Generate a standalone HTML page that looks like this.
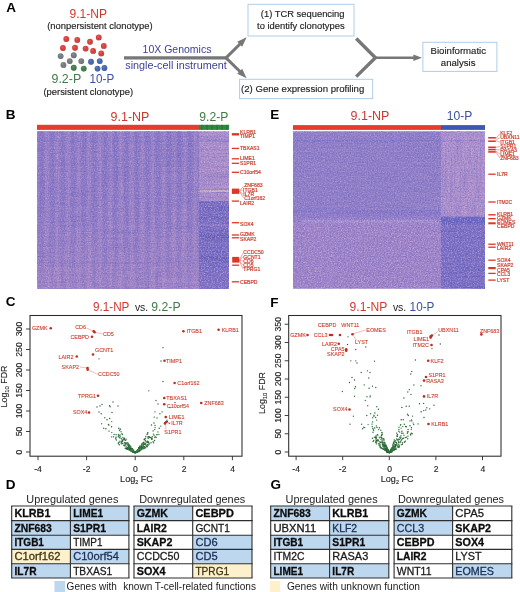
<!DOCTYPE html><html><head><meta charset="utf-8"><title>Figure</title>
<style>html,body{margin:0;padding:0;background:#fff}svg{display:block}text{font-family:"Liberation Sans",sans-serif}.b{font-weight:bold}.g{font-size:5.4px;fill:#cc4030;stroke:#cc4030;stroke-width:0.1px}.tk{fill:#222;stroke:#222;stroke-width:0.12px}.tb{font-size:11.4px;fill:#111}.hl{font-size:5.1px;fill:#cc4030;stroke:#cc4030;stroke-width:0.2px}</style></head><body>
<svg width="520" height="592" viewBox="0 0 520 592">
<defs>
<filter id="nz" x="0" y="0" width="100%" height="100%" color-interpolation-filters="sRGB"><feTurbulence type="fractalNoise" baseFrequency="0.7 0.8" numOctaves="2" seed="3"/><feColorMatrix type="matrix" values="0 0 0 0 0.84  0 0 0 0 0.70  0 0 0 0 0.86  2.2 0 0 0 -0.92"/><feGaussianBlur stdDeviation="0.45"/></filter>
<filter id="nb" x="0" y="0" width="100%" height="100%" color-interpolation-filters="sRGB"><feTurbulence type="fractalNoise" baseFrequency="0.7 0.8" numOctaves="2" seed="11"/><feColorMatrix type="matrix" values="0 0 0 0 0.34  0 0 0 0 0.34  0 0 0 0 0.72  0 2.2 0 0 -0.92"/><feGaussianBlur stdDeviation="0.45"/></filter>
<filter id="ns" x="0" y="0" width="100%" height="100%" color-interpolation-filters="sRGB"><feTurbulence type="fractalNoise" baseFrequency="0.02 0.55" numOctaves="2" seed="5"/><feColorMatrix type="matrix" values="0 0 0 0 0.34  0 0 0 0 0.34  0 0 0 0 0.72  0 0 1.8 0 -0.72"/></filter>
<filter id="np" x="0" y="0" width="100%" height="100%" color-interpolation-filters="sRGB"><feTurbulence type="fractalNoise" baseFrequency="0.02 0.55" numOctaves="2" seed="8"/><feColorMatrix type="matrix" values="0 0 0 0 0.80  0 0 0 0 0.64  0 0 0 0 0.82  0 1.8 0 0 -0.72"/></filter>
<filter id="nv" x="0" y="0" width="100%" height="100%" color-interpolation-filters="sRGB"><feTurbulence type="fractalNoise" baseFrequency="0.55 0.03" numOctaves="2" seed="21"/><feColorMatrix type="matrix" values="0 0 0 0 0.40  0 0 0 0 0.38  0 0 0 0 0.74  0 0 2.0 0 -0.8"/></filter>
<radialGradient id="sh" cx="0.4" cy="0.35" r="0.7"><stop offset="0" stop-color="#fff" stop-opacity="0.2"/><stop offset="0.5" stop-color="#fff" stop-opacity="0"/><stop offset="1" stop-color="#000" stop-opacity="0.32"/></radialGradient>
<marker id="ah" markerWidth="4" markerHeight="4" refX="1" refY="2" orient="auto" markerUnits="strokeWidth"><path d="M0,0 L4,2 L0,4 z" fill="#7d7d7d"/></marker>
<linearGradient id="gE" x1="0" y1="0" x2="0" y2="1"><stop offset="0" stop-color="#8374c9"/><stop offset="1" stop-color="#9480c9"/></linearGradient>
<linearGradient id="stB" gradientUnits="userSpaceOnUse" x1="37" y1="0" x2="47.6" y2="0" spreadMethod="repeat"><stop offset="0" stop-color="#6e64c2" stop-opacity="0"/><stop offset="0.3" stop-color="#6e64c2" stop-opacity="0.42"/><stop offset="0.55" stop-color="#6e64c2" stop-opacity="0.42"/><stop offset="0.85" stop-color="#6e64c2" stop-opacity="0"/><stop offset="1" stop-color="#6e64c2" stop-opacity="0"/></linearGradient>
<linearGradient id="gP" x1="0" y1="0" x2="0" y2="1"><stop offset="0" stop-color="#b892c8" stop-opacity="0"/><stop offset="1" stop-color="#b892c8" stop-opacity="0.5"/></linearGradient>
</defs>
<rect width="520" height="592" fill="#fff"/>
<text x="6.30" y="11.50" class="b" font-size="13.5" fill="#000">A</text>
<text x="5.70" y="118.70" class="b" font-size="13.5" fill="#000">B</text>
<text x="5.70" y="306.30" class="b" font-size="13.5" fill="#000">C</text>
<text x="5.70" y="489.00" class="b" font-size="13.5" fill="#000">D</text>
<text x="270.20" y="119.30" class="b" font-size="13.5" fill="#000">E</text>
<text x="270.20" y="306.70" class="b" font-size="13.5" fill="#000">F</text>
<text x="270.40" y="488.80" class="b" font-size="13.5" fill="#000">G</text>
<text x="69.60" y="18.10" font-size="12.2" fill="#d0382e" textLength="37.43" lengthAdjust="spacingAndGlyphs">9.1-NP</text>
<text x="99.90" y="29.20" font-size="9.4" fill="#1e1e1e" text-anchor="middle" stroke="#1e1e1e" stroke-width="0.15">(nonpersistent clonotype)</text>
<text x="51.50" y="82.80" font-size="12.3" fill="#417c45" textLength="29.70" lengthAdjust="spacingAndGlyphs">9.2-P</text>
<text x="89.60" y="82.80" font-size="12.3" fill="#3a519f" textLength="24.63" lengthAdjust="spacingAndGlyphs">10-P</text>
<text x="88.30" y="95.20" font-size="9.4" fill="#1e1e1e" text-anchor="middle" stroke="#1e1e1e" stroke-width="0.15">(persistent clonotype)</text>
<circle cx="66.25" cy="39.00" r="2.9" fill="#d73a38"/>
<circle cx="66.25" cy="39.00" r="2.9" fill="url(#sh)"/>
<circle cx="77.25" cy="39.90" r="2.9" fill="#d73a38"/>
<circle cx="77.25" cy="39.90" r="2.9" fill="url(#sh)"/>
<circle cx="98.75" cy="37.40" r="2.9" fill="#d73a38"/>
<circle cx="98.75" cy="37.40" r="2.9" fill="url(#sh)"/>
<circle cx="90.00" cy="41.75" r="2.9" fill="#d73a38"/>
<circle cx="90.00" cy="41.75" r="2.9" fill="url(#sh)"/>
<circle cx="62.90" cy="48.00" r="2.9" fill="#d73a38"/>
<circle cx="62.90" cy="48.00" r="2.9" fill="url(#sh)"/>
<circle cx="75.00" cy="47.75" r="2.9" fill="#d73a38"/>
<circle cx="75.00" cy="47.75" r="2.9" fill="url(#sh)"/>
<circle cx="85.60" cy="48.60" r="2.9" fill="#d73a38"/>
<circle cx="85.60" cy="48.60" r="2.9" fill="url(#sh)"/>
<circle cx="93.10" cy="50.90" r="2.9" fill="#d73a38"/>
<circle cx="93.10" cy="50.90" r="2.9" fill="url(#sh)"/>
<circle cx="103.75" cy="45.90" r="2.9" fill="#d73a38"/>
<circle cx="103.75" cy="45.90" r="2.9" fill="url(#sh)"/>
<circle cx="101.20" cy="53.40" r="2.9" fill="#d73a38"/>
<circle cx="101.20" cy="53.40" r="2.9" fill="url(#sh)"/>
<circle cx="60.60" cy="56.10" r="2.9" fill="#70767a"/>
<circle cx="60.60" cy="56.10" r="2.9" fill="url(#sh)"/>
<circle cx="73.75" cy="55.25" r="2.9" fill="#70767a"/>
<circle cx="73.75" cy="55.25" r="2.9" fill="url(#sh)"/>
<circle cx="69.75" cy="61.10" r="2.9" fill="#70767a"/>
<circle cx="69.75" cy="61.10" r="2.9" fill="url(#sh)"/>
<circle cx="81.25" cy="61.10" r="2.9" fill="#70767a"/>
<circle cx="81.25" cy="61.10" r="2.9" fill="url(#sh)"/>
<circle cx="63.40" cy="64.90" r="2.9" fill="#70767a"/>
<circle cx="63.40" cy="64.90" r="2.9" fill="url(#sh)"/>
<circle cx="73.75" cy="67.75" r="2.9" fill="#3c7a42"/>
<circle cx="73.75" cy="67.75" r="2.9" fill="url(#sh)"/>
<circle cx="83.75" cy="68.60" r="2.9" fill="#3c7a42"/>
<circle cx="83.75" cy="68.60" r="2.9" fill="url(#sh)"/>
<circle cx="91.00" cy="61.75" r="2.9" fill="#3d60b0"/>
<circle cx="91.00" cy="61.75" r="2.9" fill="url(#sh)"/>
<circle cx="99.75" cy="61.10" r="2.9" fill="#3d60b0"/>
<circle cx="99.75" cy="61.10" r="2.9" fill="url(#sh)"/>
<circle cx="97.50" cy="68.60" r="2.9" fill="#3d60b0"/>
<circle cx="97.50" cy="68.60" r="2.9" fill="url(#sh)"/>
<circle cx="104.40" cy="68.00" r="2.9" fill="#3d60b0"/>
<circle cx="104.40" cy="68.00" r="2.9" fill="url(#sh)"/>
<path d="M124,57.9 H227" stroke="#777777" stroke-width="3.2" fill="none"/>
<path d="M226,57.9 L241,43" stroke="#777777" stroke-width="3" fill="none"/>
<path d="M226,57.9 L241,72.5" stroke="#777777" stroke-width="3" fill="none"/>
<path d="M246.6,37.3 L237.2,41.8 L242.2,46.8 z" fill="#777777"/>
<path d="M246.6,78.2 L237.2,73.7 L242.2,68.7 z" fill="#777777"/>
<text x="177.00" y="52.80" font-size="10.5" fill="#3b3f96" text-anchor="middle">10X Genomics</text>
<text x="176.00" y="68.60" font-size="10.8" fill="#3b3f96" text-anchor="middle">single-cell instrument</text>
<rect x="248" y="4.3" width="106" height="31.7" fill="#fff" stroke="#b0cde8" stroke-width="1"/>
<text x="302.70" y="16.90" font-size="9.4" fill="#1e1e1e" text-anchor="middle" stroke="#1e1e1e" stroke-width="0.15">(1) TCR sequencing</text>
<text x="300.90" y="29.20" font-size="9.4" fill="#1e1e1e" text-anchor="middle" stroke="#1e1e1e" stroke-width="0.15">to identify clonotypes</text>
<rect x="239.6" y="79.3" width="133.1" height="19.3" fill="#fff" stroke="#b0cde8" stroke-width="1"/>
<text x="302.70" y="91.80" font-size="9.6" fill="#1e1e1e" text-anchor="middle" stroke="#1e1e1e" stroke-width="0.15">(2) Gene expression profiling</text>
<path d="M356.2,38.5 L375.4,57.7 L356.2,76.6" stroke="#777777" stroke-width="3.4" fill="none" stroke-linejoin="miter"/>
<path d="M375.4,57.7 H415" stroke="#777777" stroke-width="2.4" fill="none"/>
<path d="M422,57.7 l-8.6,-3.2 v6.4 z" fill="#777777"/>
<rect x="422.9" y="42.3" width="74" height="29.1" fill="#fff" stroke="#b0cde8" stroke-width="1"/>
<text x="458.30" y="54.40" font-size="9.6" fill="#1e1e1e" text-anchor="middle" stroke="#1e1e1e" stroke-width="0.15">Bioinformatic</text>
<text x="458.20" y="65.80" font-size="9.6" fill="#1e1e1e" text-anchor="middle" stroke="#1e1e1e" stroke-width="0.15">analysis</text>
<rect x="37.0" y="124.8" width="162.0" height="5.1" fill="#e63c2e"/>
<rect x="199.0" y="124.8" width="30.0" height="5.1" fill="#2f8a3c"/>
<rect x="201.0" y="124.8" width="2.0" height="5.1" fill="#256e30" opacity="0.5"/>
<rect x="206.0" y="124.8" width="2.0" height="5.1" fill="#256e30" opacity="0.5"/>
<rect x="211.0" y="124.8" width="2.0" height="5.1" fill="#256e30" opacity="0.5"/>
<rect x="216.0" y="124.8" width="2.0" height="5.1" fill="#256e30" opacity="0.5"/>
<rect x="221.0" y="124.8" width="2.0" height="5.1" fill="#256e30" opacity="0.5"/>
<rect x="226.0" y="124.8" width="2.0" height="5.1" fill="#256e30" opacity="0.5"/>
<rect x="37.0" y="131.3" width="162.0" height="157.7" fill="#a48ac9"/>
<rect x="37.0" y="131.3" width="162.0" height="157.7" fill="url(#stB)"/>
<rect x="37.0" y="200.0" width="162.0" height="89.0" fill="url(#gP)"/>
<rect x="37.0" y="131.3" width="162.0" height="157.7" fill="none" filter="url(#ns)" opacity="0.3"/>
<rect x="199.0" y="131.3" width="30.0" height="69.7" fill="#aa8ec9"/>
<rect x="199.0" y="201.0" width="30.0" height="88.0" fill="#776dc3"/>
<rect x="199.0" y="131.3" width="30.0" height="69.7" fill="none" filter="url(#np)" opacity="0.6"/>
<rect x="199.0" y="131.3" width="30.0" height="69.7" fill="none" filter="url(#ns)" opacity="0.35"/>
<rect x="199.0" y="201.0" width="30.0" height="88.0" fill="none" filter="url(#ns)" opacity="0.7"/>
<rect x="200.0" y="190.3" width="29.0" height="1.6" fill="#f0c8b8" opacity="0.75"/>
<rect x="199.0" y="224.5" width="30.0" height="1.2" fill="#a88ccc" opacity="0.7"/>
<rect x="199.0" y="234.6" width="30.0" height="1.3" fill="#5a58b8" opacity="0.7"/>
<rect x="199.0" y="237.0" width="30.0" height="1.3" fill="#5a58b8" opacity="0.7"/>
<rect x="199.0" y="256.5" width="30.0" height="2.2" fill="#5a58b8" opacity="0.6"/>
<rect x="199.0" y="270.0" width="30.0" height="19.0" fill="#9078c6" opacity="0.25"/>
<rect x="37.0" y="140.6" width="192.0" height="0.9" fill="#6a6ad0" opacity="0.5"/>
<rect x="37.0" y="262.5" width="162.0" height="1.0" fill="#7468c4" opacity="0.45"/>
<rect x="37.0" y="131.3" width="162.0" height="157.7" fill="none" filter="url(#nv)" opacity="0.3"/>
<rect x="37.0" y="131.3" width="162.0" height="157.7" fill="none" filter="url(#nz)" opacity="0.5"/>
<rect x="199.0" y="131.3" width="30.0" height="157.7" fill="none" filter="url(#nz)" opacity="0.7"/>
<rect x="37.0" y="131.3" width="192.0" height="157.7" fill="none" filter="url(#nb)" opacity="0.4"/>
<text x="110.60" y="120.50" font-size="12.5" fill="#d0382e" textLength="38.83" lengthAdjust="spacingAndGlyphs">9.1-NP</text>
<text x="199.30" y="120.50" font-size="12.5" fill="#417c45" textLength="29.10" lengthAdjust="spacingAndGlyphs">9.2-P</text>
<rect x="293.0" y="125.1" width="148.0" height="4.8" fill="#e63c2e"/>
<rect x="441.0" y="125.1" width="44.0" height="4.8" fill="#3d57b5"/>
<rect x="293.0" y="131.3" width="148.0" height="86.7" fill="#8c7dc8"/>
<rect x="293.0" y="218.0" width="148.0" height="70.7" fill="#9a81c8"/>
<rect x="293.0" y="210.0" width="148.0" height="12.0" fill="url(#gE)"/>
<rect x="293.0" y="131.3" width="148.0" height="157.4" fill="none" filter="url(#np)" opacity="0.25"/>
<rect x="441.0" y="131.3" width="44.0" height="86.7" fill="#ad91cc"/>
<rect x="441.0" y="218.0" width="44.0" height="70.7" fill="#7d72c6"/>
<rect x="441.0" y="131.3" width="44.0" height="86.7" fill="none" filter="url(#np)" opacity="0.55"/>
<rect x="441.0" y="218.0" width="44.0" height="70.7" fill="none" filter="url(#ns)" opacity="0.7"/>
<rect x="441.0" y="216.6" width="44.0" height="7.0" fill="#6464c3" opacity="0.9"/>
<rect x="303.0" y="220.0" width="134.0" height="2.6" fill="#b4aadc" opacity="0.42"/>
<rect x="441.0" y="202.0" width="44.0" height="3.0" fill="#b89cd0" opacity="0.45"/>
<rect x="293.0" y="140.3" width="192.0" height="0.9" fill="#6a6ad0" opacity="0.5"/>
<rect x="293.0" y="131.3" width="148.0" height="86.7" fill="none" filter="url(#nz)" opacity="0.5"/>
<rect x="293.0" y="218.0" width="148.0" height="70.7" fill="none" filter="url(#nz)" opacity="0.8"/>
<rect x="441.0" y="131.3" width="44.0" height="157.4" fill="none" filter="url(#nz)" opacity="0.7"/>
<rect x="441.0" y="131.3" width="44.0" height="157.4" fill="none" filter="url(#nv)" opacity="0.3"/>
<rect x="293.0" y="131.3" width="192.0" height="157.4" fill="none" filter="url(#nb)" opacity="0.45"/>
<text x="350.60" y="120.30" font-size="12.5" fill="#d0382e" textLength="38.83" lengthAdjust="spacingAndGlyphs">9.1-NP</text>
<text x="446.70" y="120.30" font-size="12.5" fill="#3a519f" textLength="25.53" lengthAdjust="spacingAndGlyphs">10-P</text>
<text x="240.00" y="133.70" class="hl">KLRB1</text>
<rect x="231.8" y="133.10" width="7.2" height="2.4" fill="#e2352a"/>
<text x="240.00" y="138.10" class="hl">TIMP1</text>
<text x="240.00" y="150.20" class="hl">TBXAS1</text>
<rect x="231.8" y="147.75" width="7.2" height="1.3" fill="#e2352a"/>
<text x="240.00" y="160.00" class="hl">LIME1</text>
<rect x="231.8" y="158.15" width="7.2" height="1.3" fill="#e2352a"/>
<text x="240.00" y="165.10" class="hl">S1PR1</text>
<rect x="231.8" y="162.65" width="7.2" height="1.3" fill="#e2352a"/>
<text x="240.00" y="174.10" class="hl">C10orf54</text>
<rect x="231.8" y="171.65" width="7.2" height="1.3" fill="#e2352a"/>
<text x="240.00" y="205.00" class="hl">LAIR2</text>
<rect x="231.8" y="200.45" width="7.2" height="1.3" fill="#e2352a"/>
<text x="240.00" y="226.00" class="hl">SOX4</text>
<rect x="231.8" y="222.05" width="7.2" height="1.3" fill="#e2352a"/>
<text x="240.00" y="236.00" class="hl">GZMK</text>
<rect x="231.8" y="234.35" width="7.2" height="1.3" fill="#e2352a"/>
<text x="240.00" y="240.80" class="hl">SKAP2</text>
<rect x="231.8" y="237.15" width="7.2" height="1.3" fill="#e2352a"/>
<text x="240.00" y="283.60" class="hl">CEBPD</text>
<rect x="231.8" y="281.15" width="7.2" height="1.3" fill="#e2352a"/>
<text x="244.20" y="187.30" class="hl">ZNF683</text>
<text x="243.00" y="192.10" class="hl">ITGB1</text>
<text x="243.30" y="196.10" class="hl">IL7R</text>
<text x="244.20" y="200.00" class="hl">C1orf162</text>
<rect x="231.9" y="188.6" width="7.3" height="5.3" fill="#e2352a"/>
<path d="M239.2,191.2 L243.6,186.3" stroke="#e2352a" stroke-width="0.45"/>
<path d="M239.2,191.2 L242.6,190.0" stroke="#e2352a" stroke-width="0.45"/>
<path d="M239.2,191.2 L242.9,194.0" stroke="#e2352a" stroke-width="0.45"/>
<path d="M239.2,191.2 L243.6,197.8" stroke="#e2352a" stroke-width="0.45"/>
<text x="243.30" y="254.20" class="hl">CCDC50</text>
<text x="243.30" y="258.50" class="hl">GCNT1</text>
<text x="243.30" y="262.60" class="hl">CD6</text>
<text x="243.30" y="266.80" class="hl">CD5</text>
<text x="243.30" y="271.10" class="hl">TPRG1</text>
<rect x="232.2" y="256.9" width="6.9" height="5.7" fill="#e2352a"/>
<rect x="232.2" y="264.55" width="6.9" height="1.3" fill="#e2352a"/>
<path d="M239.2,260.5 L242.9,253.2" stroke="#e2352a" stroke-width="0.45"/>
<path d="M239.2,260.5 L242.9,257.0" stroke="#e2352a" stroke-width="0.45"/>
<path d="M239.2,260.5 L242.9,260.8" stroke="#e2352a" stroke-width="0.45"/>
<path d="M239.2,260.5 L242.9,264.8" stroke="#e2352a" stroke-width="0.45"/>
<path d="M239.2,260.5 L242.9,268.8" stroke="#e2352a" stroke-width="0.45"/>
<text x="500.20" y="135.20" class="hl">KLF2</text>
<text x="500.20" y="139.30" class="hl">UBXN11</text>
<text x="500.20" y="144.00" class="hl">ITGB1</text>
<text x="500.20" y="148.30" class="hl">S1PR1</text>
<text x="500.20" y="151.70" class="hl">RASA3</text>
<text x="500.20" y="155.60" class="hl">LIME1</text>
<text x="500.20" y="159.70" class="hl">ZNF683</text>
<rect x="488.2" y="137.00" width="7.6" height="1.6" fill="#e2352a"/>
<rect x="488.2" y="140.40" width="7.6" height="1.6" fill="#e2352a"/>
<rect x="488.2" y="146.50" width="7.6" height="1.6" fill="#e2352a"/>
<rect x="488.2" y="148.80" width="7.6" height="1.6" fill="#e2352a"/>
<rect x="488.2" y="151.10" width="7.6" height="1.6" fill="#e2352a"/>
<path d="M495.8,138.5 L499.8,133.8" stroke="#e2352a" stroke-width="0.45"/>
<path d="M495.8,139.5 L499.8,137.8" stroke="#e2352a" stroke-width="0.45"/>
<path d="M495.8,140.5 L499.8,142.2" stroke="#e2352a" stroke-width="0.45"/>
<path d="M495.8,147.3 L499.8,146.5" stroke="#e2352a" stroke-width="0.45"/>
<path d="M495.8,149.6 L499.8,150.0" stroke="#e2352a" stroke-width="0.45"/>
<path d="M495.8,151.0 L499.8,154.0" stroke="#e2352a" stroke-width="0.45"/>
<path d="M495.8,152.0 L499.8,158.0" stroke="#e2352a" stroke-width="0.45"/>
<text x="497.00" y="176.00" class="hl">IL7R</text>
<rect x="488.3" y="173.55" width="7.4" height="1.3" fill="#e2352a"/>
<text x="497.00" y="203.80" class="hl">ITM2C</text>
<rect x="488.3" y="201.35" width="7.4" height="1.3" fill="#e2352a"/>
<text x="497.00" y="215.80" class="hl">KLRB1</text>
<rect x="488.3" y="214.10" width="7.4" height="1.4" fill="#e2352a"/>
<text x="497.00" y="219.70" class="hl">GZMK</text>
<rect x="488.3" y="218.00" width="7.4" height="1.4" fill="#e2352a"/>
<text x="497.00" y="223.70" class="hl">EOMES</text>
<rect x="488.3" y="222.30" width="7.4" height="2.0" fill="#e2352a"/>
<text x="497.00" y="227.90" class="hl">CEBPD</text>
<text x="497.00" y="245.70" class="hl">WNT11</text>
<rect x="488.3" y="243.55" width="7.4" height="1.3" fill="#e2352a"/>
<text x="497.00" y="250.00" class="hl">LAIR2</text>
<rect x="488.3" y="246.55" width="7.4" height="1.3" fill="#e2352a"/>
<text x="497.00" y="262.20" class="hl">SOX4</text>
<rect x="488.3" y="259.55" width="7.4" height="1.3" fill="#e2352a"/>
<text x="497.00" y="267.30" class="hl">SKAP2</text>
<rect x="488.3" y="267.00" width="7.4" height="2.2" fill="#e2352a"/>
<text x="497.00" y="271.50" class="hl">CPA5</text>
<text x="497.00" y="275.80" class="hl">CCL3</text>
<rect x="488.3" y="272.75" width="7.4" height="1.3" fill="#e2352a"/>
<text x="497.00" y="282.10" class="hl">LYST</text>
<rect x="488.3" y="279.45" width="7.4" height="1.3" fill="#e2352a"/>
<rect x="30.00" y="315.50" width="212.00" height="140.70" fill="#fff" stroke="#2a2a2a" stroke-width="1.05"/>
<text x="93.00" y="310.70" font-size="12.3" fill="#d0382e" textLength="36.43" lengthAdjust="spacingAndGlyphs">9.1-NP</text>
<text x="134.90" y="310.70" font-size="11.6" fill="#1c1c1c" textLength="13.38" lengthAdjust="spacingAndGlyphs">vs.</text>
<text x="151.30" y="310.70" font-size="12.3" fill="#417c45" textLength="29.30" lengthAdjust="spacingAndGlyphs">9.2-P</text>
<path d="M38.00,456.20 v4" stroke="#2a2a2a" stroke-width="0.9"/>
<text x="38.00" y="472.00" class="tk" text-anchor="middle" font-size="8.6">-4</text>
<path d="M86.60,456.20 v4" stroke="#2a2a2a" stroke-width="0.9"/>
<text x="86.60" y="472.00" class="tk" text-anchor="middle" font-size="8.6">-2</text>
<path d="M135.20,456.20 v4" stroke="#2a2a2a" stroke-width="0.9"/>
<text x="135.50" y="472.00" class="tk" text-anchor="middle" font-size="8.6">0</text>
<path d="M183.80,456.20 v4" stroke="#2a2a2a" stroke-width="0.9"/>
<text x="184.10" y="472.00" class="tk" text-anchor="middle" font-size="8.6">2</text>
<path d="M232.40,456.20 v4" stroke="#2a2a2a" stroke-width="0.9"/>
<text x="232.70" y="472.00" class="tk" text-anchor="middle" font-size="8.6">4</text>
<path d="M30.00,452.00 h-4" stroke="#2a2a2a" stroke-width="0.9"/>
<text class="tk" text-anchor="middle" transform="translate(22.10,452.00) rotate(-90)" font-size="8.6">0</text>
<path d="M30.00,431.50 h-4" stroke="#2a2a2a" stroke-width="0.9"/>
<text class="tk" text-anchor="middle" transform="translate(22.10,431.50) rotate(-90)" font-size="8.6">50</text>
<path d="M30.00,411.00 h-4" stroke="#2a2a2a" stroke-width="0.9"/>
<text class="tk" text-anchor="middle" transform="translate(22.10,411.00) rotate(-90)" font-size="8.6">100</text>
<path d="M30.00,390.50 h-4" stroke="#2a2a2a" stroke-width="0.9"/>
<text class="tk" text-anchor="middle" transform="translate(22.10,390.50) rotate(-90)" font-size="8.6">150</text>
<path d="M30.00,370.00 h-4" stroke="#2a2a2a" stroke-width="0.9"/>
<text class="tk" text-anchor="middle" transform="translate(22.10,370.00) rotate(-90)" font-size="8.6">200</text>
<path d="M30.00,349.50 h-4" stroke="#2a2a2a" stroke-width="0.9"/>
<text class="tk" text-anchor="middle" transform="translate(22.10,349.50) rotate(-90)" font-size="8.6">250</text>
<path d="M30.00,329.00 h-4" stroke="#2a2a2a" stroke-width="0.9"/>
<text class="tk" text-anchor="middle" transform="translate(22.10,329.00) rotate(-90)" font-size="8.6">300</text>
<text font-size="8.9" fill="#222" stroke="#222" stroke-width="0.12" text-anchor="middle" transform="translate(7.30,386.50) rotate(-90)">Log<tspan font-size="5.8" dy="2">10</tspan><tspan dy="-2"> FDR</tspan></text>
<text x="120.10" y="482.3" font-size="9.1" fill="#222" stroke="#222" stroke-width="0.12">Log<tspan font-size="5.4" dy="2">2</tspan><tspan dy="-2"> FC</tspan></text>
<circle cx="119.5" cy="430.5" r="0.72" fill="#33773f"/>
<circle cx="104.8" cy="417.7" r="0.72" fill="#33773f"/>
<circle cx="134.4" cy="452.4" r="0.72" fill="#285f33"/>
<circle cx="148.4" cy="445.1" r="0.72" fill="#2c6a38"/>
<circle cx="128.7" cy="449.5" r="0.72" fill="#2c6a38"/>
<circle cx="133.5" cy="452.0" r="0.72" fill="#33773f"/>
<circle cx="116.4" cy="440.0" r="0.72" fill="#33773f"/>
<circle cx="169.3" cy="423.5" r="0.72" fill="#3a8246"/>
<circle cx="134.3" cy="451.8" r="0.72" fill="#2c6a38"/>
<circle cx="116.0" cy="437.3" r="0.72" fill="#285f33"/>
<circle cx="137.5" cy="451.0" r="0.72" fill="#33773f"/>
<circle cx="120.5" cy="429.1" r="0.72" fill="#285f33"/>
<circle cx="135.5" cy="452.4" r="0.72" fill="#2c6a38"/>
<circle cx="126.9" cy="448.6" r="0.72" fill="#33773f"/>
<circle cx="170.0" cy="407.5" r="0.72" fill="#285f33"/>
<circle cx="137.5" cy="452.3" r="0.72" fill="#2c6a38"/>
<circle cx="138.6" cy="448.4" r="0.72" fill="#285f33"/>
<circle cx="127.5" cy="447.8" r="0.72" fill="#285f33"/>
<circle cx="126.9" cy="443.9" r="0.72" fill="#285f33"/>
<circle cx="131.9" cy="451.3" r="0.72" fill="#3a8246"/>
<circle cx="141.8" cy="445.0" r="0.72" fill="#3a8246"/>
<circle cx="133.0" cy="450.3" r="0.72" fill="#285f33"/>
<circle cx="133.1" cy="450.8" r="0.72" fill="#3a8246"/>
<circle cx="131.2" cy="451.1" r="0.72" fill="#3a8246"/>
<circle cx="132.4" cy="449.0" r="0.72" fill="#3a8246"/>
<circle cx="152.3" cy="436.7" r="0.72" fill="#285f33"/>
<circle cx="121.4" cy="442.0" r="0.72" fill="#33773f"/>
<circle cx="147.2" cy="445.7" r="0.72" fill="#3a8246"/>
<circle cx="145.6" cy="447.8" r="0.72" fill="#285f33"/>
<circle cx="152.2" cy="438.9" r="0.72" fill="#285f33"/>
<circle cx="139.0" cy="447.7" r="0.72" fill="#285f33"/>
<circle cx="122.0" cy="441.3" r="0.72" fill="#285f33"/>
<circle cx="137.1" cy="451.2" r="0.72" fill="#285f33"/>
<circle cx="141.7" cy="448.4" r="0.72" fill="#33773f"/>
<circle cx="147.9" cy="433.1" r="0.72" fill="#33773f"/>
<circle cx="137.5" cy="449.8" r="0.72" fill="#3a8246"/>
<circle cx="135.7" cy="452.2" r="0.72" fill="#3a8246"/>
<circle cx="139.5" cy="448.4" r="0.72" fill="#2c6a38"/>
<circle cx="129.3" cy="449.5" r="0.72" fill="#33773f"/>
<circle cx="136.0" cy="452.4" r="0.72" fill="#33773f"/>
<circle cx="156.1" cy="437.5" r="0.72" fill="#2c6a38"/>
<circle cx="132.7" cy="450.6" r="0.72" fill="#33773f"/>
<circle cx="142.9" cy="447.2" r="0.72" fill="#285f33"/>
<circle cx="154.2" cy="417.1" r="0.72" fill="#285f33"/>
<circle cx="138.8" cy="447.9" r="0.72" fill="#285f33"/>
<circle cx="159.2" cy="428.3" r="0.72" fill="#285f33"/>
<circle cx="136.0" cy="451.6" r="0.72" fill="#33773f"/>
<circle cx="128.0" cy="447.8" r="0.72" fill="#285f33"/>
<circle cx="119.9" cy="441.2" r="0.72" fill="#3a8246"/>
<circle cx="156.9" cy="434.6" r="0.72" fill="#3a8246"/>
<circle cx="124.6" cy="442.7" r="0.72" fill="#285f33"/>
<circle cx="141.1" cy="448.5" r="0.72" fill="#285f33"/>
<circle cx="141.8" cy="449.4" r="0.72" fill="#2c6a38"/>
<circle cx="141.6" cy="449.1" r="0.72" fill="#2c6a38"/>
<circle cx="111.6" cy="426.7" r="0.72" fill="#285f33"/>
<circle cx="130.9" cy="450.4" r="0.72" fill="#285f33"/>
<circle cx="155.2" cy="436.7" r="0.72" fill="#3a8246"/>
<circle cx="103.7" cy="428.2" r="0.72" fill="#33773f"/>
<circle cx="139.5" cy="448.9" r="0.72" fill="#2c6a38"/>
<circle cx="132.0" cy="451.5" r="0.72" fill="#285f33"/>
<circle cx="121.9" cy="433.7" r="0.72" fill="#33773f"/>
<circle cx="143.6" cy="445.0" r="0.72" fill="#3a8246"/>
<circle cx="160.8" cy="426.1" r="0.72" fill="#33773f"/>
<circle cx="124.7" cy="445.8" r="0.72" fill="#2c6a38"/>
<circle cx="143.4" cy="444.8" r="0.72" fill="#3a8246"/>
<circle cx="137.5" cy="450.5" r="0.72" fill="#3a8246"/>
<circle cx="146.5" cy="442.0" r="0.72" fill="#2c6a38"/>
<circle cx="133.6" cy="451.4" r="0.72" fill="#2c6a38"/>
<circle cx="132.7" cy="449.2" r="0.72" fill="#3a8246"/>
<circle cx="125.2" cy="443.1" r="0.72" fill="#2c6a38"/>
<circle cx="137.3" cy="450.6" r="0.72" fill="#3a8246"/>
<circle cx="140.0" cy="447.4" r="0.72" fill="#2c6a38"/>
<circle cx="134.5" cy="452.0" r="0.72" fill="#285f33"/>
<circle cx="139.4" cy="447.7" r="0.72" fill="#33773f"/>
<circle cx="135.7" cy="452.1" r="0.72" fill="#285f33"/>
<circle cx="137.9" cy="451.4" r="0.72" fill="#285f33"/>
<circle cx="121.7" cy="443.7" r="0.72" fill="#33773f"/>
<circle cx="128.3" cy="444.8" r="0.72" fill="#285f33"/>
<circle cx="132.5" cy="450.1" r="0.72" fill="#285f33"/>
<circle cx="129.9" cy="446.3" r="0.72" fill="#3a8246"/>
<circle cx="144.2" cy="439.7" r="0.72" fill="#2c6a38"/>
<circle cx="135.8" cy="452.5" r="0.72" fill="#3a8246"/>
<circle cx="130.5" cy="450.7" r="0.72" fill="#3a8246"/>
<circle cx="137.8" cy="451.1" r="0.72" fill="#33773f"/>
<circle cx="147.7" cy="437.0" r="0.72" fill="#3a8246"/>
<circle cx="143.9" cy="442.5" r="0.72" fill="#3a8246"/>
<circle cx="128.4" cy="446.7" r="0.72" fill="#33773f"/>
<circle cx="126.0" cy="448.6" r="0.72" fill="#33773f"/>
<circle cx="135.5" cy="452.5" r="0.72" fill="#3a8246"/>
<circle cx="148.7" cy="443.0" r="0.72" fill="#3a8246"/>
<circle cx="134.3" cy="451.7" r="0.72" fill="#3a8246"/>
<circle cx="136.9" cy="451.2" r="0.72" fill="#33773f"/>
<circle cx="145.1" cy="438.8" r="0.72" fill="#285f33"/>
<circle cx="134.8" cy="452.4" r="0.72" fill="#33773f"/>
<circle cx="141.9" cy="447.7" r="0.72" fill="#33773f"/>
<circle cx="132.6" cy="450.2" r="0.72" fill="#33773f"/>
<circle cx="148.2" cy="438.4" r="0.72" fill="#33773f"/>
<circle cx="137.6" cy="451.9" r="0.72" fill="#33773f"/>
<circle cx="148.7" cy="436.8" r="0.72" fill="#285f33"/>
<circle cx="135.7" cy="452.5" r="0.72" fill="#285f33"/>
<circle cx="121.0" cy="431.7" r="0.72" fill="#3a8246"/>
<circle cx="131.6" cy="449.4" r="0.72" fill="#3a8246"/>
<circle cx="135.6" cy="452.4" r="0.72" fill="#2c6a38"/>
<circle cx="143.1" cy="448.4" r="0.72" fill="#33773f"/>
<circle cx="132.6" cy="451.6" r="0.72" fill="#33773f"/>
<circle cx="111.7" cy="421.6" r="0.72" fill="#3a8246"/>
<circle cx="145.4" cy="444.0" r="0.72" fill="#33773f"/>
<circle cx="162.1" cy="411.9" r="0.72" fill="#33773f"/>
<circle cx="138.0" cy="451.5" r="0.72" fill="#285f33"/>
<circle cx="129.3" cy="447.9" r="0.72" fill="#3a8246"/>
<circle cx="135.7" cy="452.2" r="0.72" fill="#285f33"/>
<circle cx="128.8" cy="446.2" r="0.72" fill="#285f33"/>
<circle cx="107.0" cy="419.7" r="0.72" fill="#285f33"/>
<circle cx="128.4" cy="444.0" r="0.72" fill="#33773f"/>
<circle cx="127.1" cy="444.1" r="0.72" fill="#3a8246"/>
<circle cx="144.6" cy="444.3" r="0.72" fill="#285f33"/>
<circle cx="136.5" cy="452.1" r="0.72" fill="#2c6a38"/>
<circle cx="125.3" cy="448.3" r="0.72" fill="#2c6a38"/>
<circle cx="154.0" cy="423.0" r="0.72" fill="#2c6a38"/>
<circle cx="139.0" cy="450.8" r="0.72" fill="#285f33"/>
<circle cx="130.5" cy="448.0" r="0.72" fill="#2c6a38"/>
<circle cx="129.5" cy="448.6" r="0.72" fill="#3a8246"/>
<circle cx="137.3" cy="451.2" r="0.72" fill="#33773f"/>
<circle cx="139.2" cy="451.1" r="0.72" fill="#33773f"/>
<circle cx="137.3" cy="452.0" r="0.72" fill="#2c6a38"/>
<circle cx="139.9" cy="448.1" r="0.72" fill="#285f33"/>
<circle cx="136.9" cy="452.0" r="0.72" fill="#285f33"/>
<circle cx="157.9" cy="431.9" r="0.72" fill="#33773f"/>
<circle cx="120.2" cy="436.8" r="0.72" fill="#3a8246"/>
<circle cx="134.1" cy="452.5" r="0.72" fill="#33773f"/>
<circle cx="141.7" cy="444.4" r="0.72" fill="#33773f"/>
<circle cx="153.1" cy="430.9" r="0.72" fill="#2c6a38"/>
<circle cx="126.7" cy="448.6" r="0.72" fill="#33773f"/>
<circle cx="134.8" cy="452.4" r="0.72" fill="#3a8246"/>
<circle cx="147.7" cy="432.8" r="0.72" fill="#2c6a38"/>
<circle cx="151.5" cy="425.0" r="0.72" fill="#2c6a38"/>
<circle cx="147.5" cy="444.4" r="0.72" fill="#2c6a38"/>
<circle cx="138.1" cy="451.0" r="0.72" fill="#2c6a38"/>
<circle cx="126.5" cy="448.9" r="0.72" fill="#2c6a38"/>
<circle cx="118.2" cy="436.7" r="0.72" fill="#2c6a38"/>
<circle cx="139.8" cy="449.6" r="0.72" fill="#2c6a38"/>
<circle cx="129.3" cy="445.2" r="0.72" fill="#285f33"/>
<circle cx="136.1" cy="452.5" r="0.72" fill="#285f33"/>
<circle cx="132.9" cy="452.1" r="0.72" fill="#3a8246"/>
<circle cx="131.2" cy="449.4" r="0.72" fill="#3a8246"/>
<circle cx="131.6" cy="450.6" r="0.72" fill="#285f33"/>
<circle cx="149.3" cy="444.0" r="0.72" fill="#2c6a38"/>
<circle cx="133.0" cy="451.2" r="0.72" fill="#285f33"/>
<circle cx="148.7" cy="436.8" r="0.72" fill="#2c6a38"/>
<circle cx="132.6" cy="451.1" r="0.72" fill="#3a8246"/>
<circle cx="110.2" cy="406.7" r="0.72" fill="#3a8246"/>
<circle cx="135.2" cy="452.6" r="0.72" fill="#285f33"/>
<circle cx="136.8" cy="451.1" r="0.72" fill="#33773f"/>
<circle cx="101.2" cy="413.8" r="0.72" fill="#2c6a38"/>
<circle cx="132.8" cy="450.9" r="0.72" fill="#2c6a38"/>
<circle cx="151.7" cy="439.2" r="0.72" fill="#2c6a38"/>
<circle cx="135.2" cy="452.6" r="0.72" fill="#2c6a38"/>
<circle cx="153.6" cy="442.8" r="0.72" fill="#3a8246"/>
<circle cx="120.1" cy="429.3" r="0.72" fill="#3a8246"/>
<circle cx="122.4" cy="440.4" r="0.72" fill="#285f33"/>
<circle cx="119.6" cy="437.8" r="0.72" fill="#2c6a38"/>
<circle cx="155.1" cy="427.6" r="0.72" fill="#2c6a38"/>
<circle cx="154.1" cy="435.2" r="0.72" fill="#33773f"/>
<circle cx="126.3" cy="448.5" r="0.72" fill="#285f33"/>
<circle cx="134.5" cy="452.5" r="0.72" fill="#285f33"/>
<circle cx="134.0" cy="451.5" r="0.72" fill="#2c6a38"/>
<circle cx="135.7" cy="452.1" r="0.72" fill="#3a8246"/>
<circle cx="136.2" cy="452.1" r="0.72" fill="#2c6a38"/>
<circle cx="138.0" cy="449.6" r="0.72" fill="#3a8246"/>
<circle cx="129.2" cy="445.2" r="0.72" fill="#33773f"/>
<circle cx="133.7" cy="452.2" r="0.72" fill="#3a8246"/>
<circle cx="136.1" cy="451.9" r="0.72" fill="#2c6a38"/>
<circle cx="111.6" cy="436.9" r="0.72" fill="#3a8246"/>
<circle cx="131.6" cy="450.9" r="0.72" fill="#2c6a38"/>
<circle cx="145.2" cy="443.3" r="0.72" fill="#33773f"/>
<circle cx="135.8" cy="452.5" r="0.72" fill="#33773f"/>
<circle cx="133.5" cy="451.9" r="0.72" fill="#33773f"/>
<circle cx="130.4" cy="449.9" r="0.72" fill="#2c6a38"/>
<circle cx="141.1" cy="445.2" r="0.72" fill="#3a8246"/>
<circle cx="130.4" cy="450.0" r="0.72" fill="#2c6a38"/>
<circle cx="137.4" cy="450.7" r="0.72" fill="#2c6a38"/>
<circle cx="144.8" cy="447.0" r="0.72" fill="#33773f"/>
<circle cx="134.1" cy="452.1" r="0.72" fill="#285f33"/>
<circle cx="147.8" cy="442.3" r="0.72" fill="#2c6a38"/>
<circle cx="141.7" cy="446.0" r="0.72" fill="#3a8246"/>
<circle cx="129.7" cy="448.0" r="0.72" fill="#2c6a38"/>
<circle cx="134.2" cy="452.1" r="0.72" fill="#285f33"/>
<circle cx="143.6" cy="448.5" r="0.72" fill="#285f33"/>
<circle cx="135.2" cy="452.6" r="0.72" fill="#2c6a38"/>
<circle cx="144.4" cy="439.2" r="0.72" fill="#285f33"/>
<circle cx="126.2" cy="442.9" r="0.72" fill="#285f33"/>
<circle cx="135.4" cy="452.5" r="0.72" fill="#33773f"/>
<circle cx="145.7" cy="438.1" r="0.72" fill="#33773f"/>
<circle cx="147.4" cy="441.3" r="0.72" fill="#2c6a38"/>
<circle cx="141.6" cy="446.5" r="0.72" fill="#2c6a38"/>
<circle cx="138.1" cy="449.9" r="0.72" fill="#3a8246"/>
<circle cx="131.6" cy="449.2" r="0.72" fill="#2c6a38"/>
<circle cx="142.1" cy="446.2" r="0.72" fill="#2c6a38"/>
<circle cx="154.5" cy="440.5" r="0.72" fill="#285f33"/>
<circle cx="133.4" cy="450.6" r="0.72" fill="#285f33"/>
<circle cx="165.6" cy="417.5" r="0.72" fill="#33773f"/>
<circle cx="129.1" cy="448.2" r="0.72" fill="#33773f"/>
<circle cx="135.7" cy="452.3" r="0.72" fill="#3a8246"/>
<circle cx="136.2" cy="452.1" r="0.72" fill="#285f33"/>
<circle cx="137.7" cy="450.7" r="0.72" fill="#33773f"/>
<circle cx="150.7" cy="437.4" r="0.72" fill="#285f33"/>
<circle cx="129.0" cy="449.4" r="0.72" fill="#3a8246"/>
<circle cx="147.8" cy="441.9" r="0.72" fill="#2c6a38"/>
<circle cx="132.8" cy="452.2" r="0.72" fill="#285f33"/>
<circle cx="123.9" cy="439.3" r="0.72" fill="#3a8246"/>
<circle cx="138.0" cy="451.5" r="0.72" fill="#285f33"/>
<circle cx="140.5" cy="447.3" r="0.72" fill="#3a8246"/>
<circle cx="126.3" cy="447.0" r="0.72" fill="#33773f"/>
<circle cx="135.9" cy="452.3" r="0.72" fill="#33773f"/>
<circle cx="149.5" cy="437.2" r="0.72" fill="#285f33"/>
<circle cx="134.5" cy="452.2" r="0.72" fill="#2c6a38"/>
<circle cx="151.6" cy="438.3" r="0.72" fill="#285f33"/>
<circle cx="139.4" cy="451.0" r="0.72" fill="#33773f"/>
<circle cx="128.8" cy="448.6" r="0.72" fill="#2c6a38"/>
<circle cx="135.6" cy="452.4" r="0.72" fill="#285f33"/>
<circle cx="143.4" cy="446.4" r="0.72" fill="#3a8246"/>
<circle cx="122.0" cy="439.6" r="0.72" fill="#3a8246"/>
<circle cx="116.1" cy="434.8" r="0.72" fill="#33773f"/>
<circle cx="133.9" cy="452.2" r="0.72" fill="#3a8246"/>
<circle cx="138.5" cy="451.2" r="0.72" fill="#285f33"/>
<circle cx="115.7" cy="438.8" r="0.72" fill="#2c6a38"/>
<circle cx="139.6" cy="447.5" r="0.72" fill="#285f33"/>
<circle cx="136.3" cy="452.1" r="0.72" fill="#3a8246"/>
<circle cx="143.2" cy="444.9" r="0.72" fill="#2c6a38"/>
<circle cx="147.1" cy="434.6" r="0.72" fill="#3a8246"/>
<circle cx="144.3" cy="446.6" r="0.72" fill="#285f33"/>
<circle cx="119.0" cy="442.6" r="0.72" fill="#3a8246"/>
<circle cx="145.4" cy="440.9" r="0.72" fill="#285f33"/>
<circle cx="138.7" cy="448.0" r="0.72" fill="#33773f"/>
<circle cx="133.9" cy="452.0" r="0.72" fill="#2c6a38"/>
<circle cx="129.5" cy="447.4" r="0.72" fill="#2c6a38"/>
<circle cx="133.4" cy="451.6" r="0.72" fill="#3a8246"/>
<circle cx="130.9" cy="449.9" r="0.72" fill="#3a8246"/>
<circle cx="153.4" cy="434.1" r="0.72" fill="#2c6a38"/>
<circle cx="134.8" cy="452.5" r="0.72" fill="#33773f"/>
<circle cx="138.7" cy="450.1" r="0.72" fill="#2c6a38"/>
<circle cx="142.9" cy="443.5" r="0.72" fill="#33773f"/>
<circle cx="126.0" cy="439.3" r="0.72" fill="#285f33"/>
<circle cx="130.0" cy="450.1" r="0.72" fill="#3a8246"/>
<circle cx="139.0" cy="450.8" r="0.72" fill="#3a8246"/>
<circle cx="128.3" cy="443.9" r="0.72" fill="#33773f"/>
<circle cx="138.7" cy="451.0" r="0.72" fill="#2c6a38"/>
<circle cx="131.1" cy="448.8" r="0.72" fill="#285f33"/>
<circle cx="157.0" cy="418.0" r="0.72" fill="#3a8246"/>
<circle cx="159.9" cy="413.8" r="0.72" fill="#33773f"/>
<circle cx="133.3" cy="451.5" r="0.72" fill="#33773f"/>
<circle cx="135.9" cy="452.4" r="0.72" fill="#285f33"/>
<circle cx="138.8" cy="448.0" r="0.72" fill="#2c6a38"/>
<circle cx="143.8" cy="443.5" r="0.72" fill="#2c6a38"/>
<circle cx="132.7" cy="450.2" r="0.72" fill="#285f33"/>
<circle cx="143.2" cy="442.4" r="0.72" fill="#285f33"/>
<circle cx="122.9" cy="443.3" r="0.72" fill="#3a8246"/>
<circle cx="135.4" cy="452.4" r="0.72" fill="#2c6a38"/>
<circle cx="125.8" cy="443.3" r="0.72" fill="#285f33"/>
<circle cx="143.9" cy="448.0" r="0.72" fill="#285f33"/>
<circle cx="154.7" cy="429.6" r="0.72" fill="#2c6a38"/>
<circle cx="101.6" cy="423.8" r="0.72" fill="#3a8246"/>
<circle cx="137.6" cy="451.3" r="0.72" fill="#3a8246"/>
<circle cx="109.7" cy="418.5" r="0.72" fill="#2c6a38"/>
<circle cx="129.0" cy="449.6" r="0.72" fill="#3a8246"/>
<circle cx="132.5" cy="451.0" r="0.72" fill="#2c6a38"/>
<circle cx="135.8" cy="452.1" r="0.72" fill="#3a8246"/>
<circle cx="109.6" cy="405.7" r="0.72" fill="#285f33"/>
<circle cx="145.1" cy="444.3" r="0.72" fill="#2c6a38"/>
<circle cx="148.4" cy="442.1" r="0.72" fill="#33773f"/>
<circle cx="144.5" cy="448.0" r="0.72" fill="#2c6a38"/>
<circle cx="145.5" cy="440.5" r="0.72" fill="#3a8246"/>
<circle cx="119.2" cy="444.7" r="0.72" fill="#33773f"/>
<circle cx="134.5" cy="452.1" r="0.72" fill="#2c6a38"/>
<circle cx="135.7" cy="452.2" r="0.72" fill="#2c6a38"/>
<circle cx="137.3" cy="451.0" r="0.72" fill="#3a8246"/>
<circle cx="118.9" cy="442.3" r="0.72" fill="#3a8246"/>
<circle cx="105.9" cy="428.7" r="0.72" fill="#285f33"/>
<circle cx="125.8" cy="445.9" r="0.72" fill="#3a8246"/>
<circle cx="137.6" cy="451.2" r="0.72" fill="#33773f"/>
<circle cx="138.7" cy="450.6" r="0.72" fill="#33773f"/>
<circle cx="145.5" cy="447.4" r="0.72" fill="#3a8246"/>
<circle cx="146.1" cy="446.0" r="0.72" fill="#3a8246"/>
<circle cx="122.5" cy="434.6" r="0.72" fill="#285f33"/>
<circle cx="138.0" cy="451.3" r="0.72" fill="#2c6a38"/>
<circle cx="139.4" cy="449.6" r="0.72" fill="#33773f"/>
<circle cx="137.0" cy="452.1" r="0.72" fill="#3a8246"/>
<circle cx="127.1" cy="448.8" r="0.72" fill="#285f33"/>
<circle cx="124.1" cy="439.5" r="0.72" fill="#285f33"/>
<circle cx="131.1" cy="448.4" r="0.72" fill="#285f33"/>
<circle cx="136.3" cy="451.6" r="0.72" fill="#3a8246"/>
<circle cx="108.9" cy="425.1" r="0.72" fill="#2c6a38"/>
<circle cx="135.5" cy="452.5" r="0.72" fill="#2c6a38"/>
<circle cx="130.5" cy="446.5" r="0.72" fill="#3a8246"/>
<circle cx="128.4" cy="446.7" r="0.72" fill="#285f33"/>
<circle cx="141.6" cy="446.7" r="0.72" fill="#285f33"/>
<circle cx="127.6" cy="448.4" r="0.72" fill="#2c6a38"/>
<circle cx="133.7" cy="451.5" r="0.72" fill="#33773f"/>
<circle cx="128.5" cy="445.4" r="0.72" fill="#33773f"/>
<circle cx="141.1" cy="449.5" r="0.72" fill="#3a8246"/>
<circle cx="119.0" cy="435.6" r="0.72" fill="#3a8246"/>
<circle cx="150.1" cy="437.8" r="0.72" fill="#2c6a38"/>
<circle cx="130.6" cy="448.5" r="0.72" fill="#285f33"/>
<circle cx="147.2" cy="446.1" r="0.72" fill="#3a8246"/>
<circle cx="121.2" cy="438.4" r="0.72" fill="#2c6a38"/>
<circle cx="131.6" cy="450.9" r="0.72" fill="#33773f"/>
<circle cx="147.0" cy="446.8" r="0.72" fill="#285f33"/>
<circle cx="134.3" cy="452.4" r="0.72" fill="#285f33"/>
<circle cx="143.9" cy="448.7" r="0.72" fill="#3a8246"/>
<circle cx="136.4" cy="452.4" r="0.72" fill="#3a8246"/>
<circle cx="135.9" cy="452.1" r="0.72" fill="#285f33"/>
<circle cx="127.7" cy="442.7" r="0.72" fill="#33773f"/>
<circle cx="111.8" cy="432.6" r="0.72" fill="#33773f"/>
<circle cx="131.8" cy="449.1" r="0.72" fill="#3a8246"/>
<circle cx="132.2" cy="448.6" r="0.72" fill="#285f33"/>
<circle cx="130.6" cy="450.7" r="0.72" fill="#3a8246"/>
<circle cx="125.6" cy="440.4" r="0.72" fill="#33773f"/>
<circle cx="129.8" cy="445.4" r="0.72" fill="#2c6a38"/>
<circle cx="136.5" cy="452.3" r="0.72" fill="#2c6a38"/>
<circle cx="141.5" cy="447.5" r="0.72" fill="#285f33"/>
<circle cx="140.0" cy="450.7" r="0.72" fill="#285f33"/>
<circle cx="109.0" cy="431.1" r="0.72" fill="#285f33"/>
<circle cx="133.0" cy="451.1" r="0.72" fill="#2c6a38"/>
<circle cx="166.9" cy="420.2" r="0.72" fill="#3a8246"/>
<circle cx="132.2" cy="450.9" r="0.72" fill="#33773f"/>
<circle cx="133.6" cy="450.6" r="0.72" fill="#285f33"/>
<circle cx="140.8" cy="450.1" r="0.72" fill="#285f33"/>
<circle cx="127.7" cy="449.2" r="0.72" fill="#285f33"/>
<circle cx="122.4" cy="443.6" r="0.72" fill="#33773f"/>
<circle cx="148.6" cy="442.3" r="0.72" fill="#2c6a38"/>
<circle cx="155.0" cy="425.4" r="0.72" fill="#2c6a38"/>
<circle cx="137.7" cy="451.5" r="0.72" fill="#33773f"/>
<circle cx="154.8" cy="437.4" r="0.72" fill="#3a8246"/>
<circle cx="139.7" cy="449.4" r="0.72" fill="#3a8246"/>
<circle cx="130.3" cy="450.0" r="0.72" fill="#3a8246"/>
<circle cx="140.4" cy="448.6" r="0.72" fill="#3a8246"/>
<circle cx="128.7" cy="446.1" r="0.72" fill="#2c6a38"/>
<circle cx="132.8" cy="449.5" r="0.72" fill="#3a8246"/>
<circle cx="137.1" cy="452.0" r="0.72" fill="#33773f"/>
<circle cx="124.0" cy="445.6" r="0.72" fill="#285f33"/>
<circle cx="142.0" cy="443.6" r="0.72" fill="#33773f"/>
<circle cx="131.5" cy="450.8" r="0.72" fill="#33773f"/>
<circle cx="158.9" cy="434.5" r="0.72" fill="#3a8246"/>
<circle cx="122.0" cy="441.8" r="0.72" fill="#33773f"/>
<circle cx="146.2" cy="445.4" r="0.72" fill="#3a8246"/>
<circle cx="118.3" cy="443.2" r="0.72" fill="#285f33"/>
<circle cx="141.9" cy="446.2" r="0.72" fill="#2c6a38"/>
<circle cx="129.2" cy="445.5" r="0.72" fill="#3a8246"/>
<circle cx="142.8" cy="447.2" r="0.72" fill="#33773f"/>
<circle cx="114.1" cy="434.4" r="0.72" fill="#2c6a38"/>
<circle cx="136.6" cy="451.7" r="0.72" fill="#3a8246"/>
<circle cx="133.0" cy="451.6" r="0.72" fill="#2c6a38"/>
<circle cx="132.8" cy="451.2" r="0.72" fill="#3a8246"/>
<circle cx="145.8" cy="443.9" r="0.72" fill="#33773f"/>
<circle cx="124.1" cy="439.9" r="0.72" fill="#285f33"/>
<circle cx="139.8" cy="446.5" r="0.72" fill="#2c6a38"/>
<circle cx="140.1" cy="447.6" r="0.72" fill="#33773f"/>
<circle cx="147.1" cy="434.1" r="0.72" fill="#285f33"/>
<circle cx="122.9" cy="437.5" r="0.72" fill="#33773f"/>
<circle cx="127.8" cy="445.1" r="0.72" fill="#285f33"/>
<circle cx="118.8" cy="428.2" r="0.72" fill="#285f33"/>
<circle cx="120.1" cy="435.0" r="0.72" fill="#33773f"/>
<circle cx="156.9" cy="434.8" r="0.72" fill="#33773f"/>
<circle cx="118.4" cy="434.4" r="0.72" fill="#3a8246"/>
<circle cx="141.4" cy="448.8" r="0.72" fill="#285f33"/>
<circle cx="135.4" cy="452.5" r="0.72" fill="#33773f"/>
<circle cx="134.6" cy="452.5" r="0.72" fill="#3a8246"/>
<circle cx="145.8" cy="436.4" r="0.72" fill="#3a8246"/>
<circle cx="135.8" cy="452.2" r="0.72" fill="#285f33"/>
<circle cx="119.0" cy="435.8" r="0.72" fill="#2c6a38"/>
<circle cx="121.1" cy="442.1" r="0.72" fill="#33773f"/>
<circle cx="123.5" cy="438.9" r="0.72" fill="#3a8246"/>
<circle cx="131.2" cy="450.6" r="0.72" fill="#3a8246"/>
<circle cx="129.3" cy="450.0" r="0.72" fill="#33773f"/>
<circle cx="142.9" cy="446.5" r="0.72" fill="#3a8246"/>
<circle cx="136.5" cy="451.1" r="0.72" fill="#3a8246"/>
<circle cx="136.3" cy="452.4" r="0.72" fill="#2c6a38"/>
<circle cx="135.0" cy="452.4" r="0.72" fill="#3a8246"/>
<circle cx="124.1" cy="445.0" r="0.72" fill="#285f33"/>
<circle cx="153.1" cy="441.7" r="0.72" fill="#2c6a38"/>
<circle cx="113.5" cy="436.7" r="0.72" fill="#3a8246"/>
<circle cx="139.9" cy="446.2" r="0.72" fill="#285f33"/>
<circle cx="134.6" cy="452.5" r="0.72" fill="#33773f"/>
<circle cx="148.2" cy="442.1" r="0.72" fill="#285f33"/>
<circle cx="131.1" cy="447.1" r="0.72" fill="#33773f"/>
<circle cx="142.3" cy="448.5" r="0.72" fill="#3a8246"/>
<circle cx="124.4" cy="438.3" r="0.72" fill="#285f33"/>
<circle cx="119.2" cy="444.6" r="0.72" fill="#3a8246"/>
<circle cx="134.5" cy="451.9" r="0.72" fill="#3a8246"/>
<circle cx="134.7" cy="452.4" r="0.72" fill="#2c6a38"/>
<circle cx="122.7" cy="440.9" r="0.72" fill="#2c6a38"/>
<circle cx="125.5" cy="444.2" r="0.72" fill="#33773f"/>
<circle cx="108.5" cy="424.5" r="0.72" fill="#2c6a38"/>
<circle cx="134.4" cy="452.3" r="0.72" fill="#285f33"/>
<circle cx="121.2" cy="443.6" r="0.72" fill="#33773f"/>
<circle cx="131.6" cy="451.1" r="0.72" fill="#3a8246"/>
<circle cx="135.5" cy="452.5" r="0.72" fill="#2c6a38"/>
<circle cx="138.9" cy="448.0" r="0.72" fill="#33773f"/>
<circle cx="151.0" cy="442.8" r="0.72" fill="#2c6a38"/>
<circle cx="130.0" cy="449.3" r="0.72" fill="#285f33"/>
<circle cx="99.0" cy="358.8" r="0.65" fill="#2f4f40"/>
<circle cx="163.0" cy="347.7" r="0.65" fill="#2f4f40"/>
<circle cx="161.0" cy="361.0" r="0.65" fill="#2f4f40"/>
<circle cx="163.0" cy="381.5" r="0.65" fill="#2f4f40"/>
<circle cx="148.8" cy="390.8" r="0.65" fill="#2f4f40"/>
<circle cx="156.0" cy="400.5" r="0.65" fill="#2f4f40"/>
<circle cx="158.0" cy="404.0" r="0.65" fill="#2f4f40"/>
<circle cx="155.0" cy="411.8" r="0.65" fill="#2f4f40"/>
<circle cx="175.0" cy="402.5" r="0.65" fill="#2f4f40"/>
<circle cx="97.0" cy="407.0" r="0.65" fill="#2f4f40"/>
<circle cx="100.0" cy="406.0" r="0.65" fill="#2f4f40"/>
<circle cx="102.0" cy="404.5" r="0.65" fill="#2f4f40"/>
<circle cx="99.0" cy="412.0" r="0.65" fill="#2f4f40"/>
<circle cx="113.0" cy="402.0" r="0.65" fill="#2f4f40"/>
<circle cx="118.0" cy="406.0" r="0.65" fill="#2f4f40"/>
<circle cx="112.0" cy="412.5" r="0.65" fill="#2f4f40"/>
<circle cx="167.5" cy="421.5" r="0.65" fill="#2f4f40"/>
<circle cx="164.5" cy="422.6" r="0.65" fill="#2f4f40"/>
<path d="M86.5,328.0 L93.0,331.0" stroke="#cc4030" stroke-width="0.35"/>
<path d="M96.0,332.5 L102.5,333.8" stroke="#cc4030" stroke-width="0.35"/>
<path d="M80.0,367.0 L87.0,368.0" stroke="#cc4030" stroke-width="0.35"/>
<path d="M88.5,370.0 L97.5,374.3" stroke="#cc4030" stroke-width="0.35"/>
<path d="M167.5,422.3 L170.8,423.0" stroke="#cc4030" stroke-width="0.35"/>
<path d="M165.5,424.5 L166.0,429.5" stroke="#cc4030" stroke-width="0.35"/>
<circle cx="50.75" cy="328.25" r="1.3" fill="#bb2e28"/>
<text x="47.50" y="330.10" class="g" text-anchor="end">GZMK</text>
<circle cx="93.75" cy="331.20" r="1.3" fill="#bb2e28"/>
<text x="86.00" y="328.90" class="g" text-anchor="end">CD6</text>
<circle cx="94.60" cy="332.20" r="1.3" fill="#bb2e28"/>
<text x="103.00" y="335.90" class="g" text-anchor="start">CD5</text>
<circle cx="92.00" cy="336.75" r="1.3" fill="#bb2e28"/>
<text x="89.00" y="338.65" class="g" text-anchor="end">CEBPD</text>
<circle cx="93.00" cy="354.50" r="1.3" fill="#bb2e28"/>
<text x="95.00" y="352.40" class="g" text-anchor="start">GCNT1</text>
<circle cx="76.75" cy="356.50" r="1.3" fill="#bb2e28"/>
<text x="73.50" y="358.90" class="g" text-anchor="end">LAIR2</text>
<circle cx="87.50" cy="368.00" r="1.3" fill="#bb2e28"/>
<text x="79.00" y="368.65" class="g" text-anchor="end">SKAP2</text>
<circle cx="87.70" cy="369.60" r="1.3" fill="#bb2e28"/>
<text x="98.00" y="376.40" class="g" text-anchor="start">CCDC50</text>
<circle cx="98.00" cy="395.75" r="1.3" fill="#bb2e28"/>
<text x="96.00" y="397.65" class="g" text-anchor="end">TPRG1</text>
<circle cx="89.00" cy="412.50" r="1.3" fill="#bb2e28"/>
<text x="87.30" y="414.40" class="g" text-anchor="end">SOX4</text>
<circle cx="183.40" cy="331.30" r="1.3" fill="#bb2e28"/>
<text x="186.40" y="333.40" class="g" text-anchor="start">ITGB1</text>
<circle cx="218.60" cy="329.80" r="1.3" fill="#bb2e28"/>
<text x="221.70" y="331.90" class="g" text-anchor="start">KLRB1</text>
<circle cx="164.50" cy="360.80" r="1.3" fill="#bb2e28"/>
<text x="166.00" y="362.90" class="g" text-anchor="start">TIMP1</text>
<circle cx="174.60" cy="383.00" r="1.3" fill="#bb2e28"/>
<text x="177.30" y="385.10" class="g" text-anchor="start">C1orf162</text>
<circle cx="164.25" cy="398.00" r="1.3" fill="#bb2e28"/>
<text x="166.30" y="399.90" class="g" text-anchor="start">TBXAS1</text>
<circle cx="201.25" cy="403.00" r="1.3" fill="#bb2e28"/>
<text x="204.30" y="404.90" class="g" text-anchor="start">ZNF683</text>
<circle cx="164.25" cy="404.25" r="1.3" fill="#bb2e28"/>
<text x="166.80" y="407.65" class="g" text-anchor="start">C10orf54</text>
<circle cx="165.75" cy="417.00" r="1.3" fill="#bb2e28"/>
<text x="168.80" y="418.90" class="g" text-anchor="start">LIME1</text>
<circle cx="166.25" cy="422.00" r="1.3" fill="#bb2e28"/>
<text x="171.30" y="424.90" class="g" text-anchor="start">IL7R</text>
<circle cx="165.00" cy="423.50" r="1.3" fill="#bb2e28"/>
<text x="164.30" y="433.90" class="g" text-anchor="start">S1PR1</text>
<rect x="288.70" y="315.50" width="212.30" height="140.70" fill="#fff" stroke="#2a2a2a" stroke-width="1.05"/>
<text x="349.60" y="310.70" font-size="12.3" fill="#d0382e" textLength="37.73" lengthAdjust="spacingAndGlyphs">9.1-NP</text>
<text x="392.90" y="310.70" font-size="11.6" fill="#1c1c1c" textLength="13.38" lengthAdjust="spacingAndGlyphs">vs.</text>
<text x="409.60" y="310.70" font-size="12.3" fill="#3a519f" textLength="24.83" lengthAdjust="spacingAndGlyphs">10-P</text>
<path d="M296.10,456.20 v4" stroke="#2a2a2a" stroke-width="0.9"/>
<text x="296.10" y="472.00" class="tk" text-anchor="middle" font-size="8.6">-4</text>
<path d="M342.70,456.20 v4" stroke="#2a2a2a" stroke-width="0.9"/>
<text x="342.70" y="472.00" class="tk" text-anchor="middle" font-size="8.6">-2</text>
<path d="M389.30,456.20 v4" stroke="#2a2a2a" stroke-width="0.9"/>
<text x="389.60" y="472.00" class="tk" text-anchor="middle" font-size="8.6">0</text>
<path d="M435.90,456.20 v4" stroke="#2a2a2a" stroke-width="0.9"/>
<text x="436.20" y="472.00" class="tk" text-anchor="middle" font-size="8.6">2</text>
<path d="M482.50,456.20 v4" stroke="#2a2a2a" stroke-width="0.9"/>
<text x="482.80" y="472.00" class="tk" text-anchor="middle" font-size="8.6">4</text>
<path d="M288.70,452.00 h-4" stroke="#2a2a2a" stroke-width="0.9"/>
<text class="tk" text-anchor="middle" transform="translate(280.80,452.00) rotate(-90)" font-size="8.6">0</text>
<path d="M288.70,433.75 h-4" stroke="#2a2a2a" stroke-width="0.9"/>
<text class="tk" text-anchor="middle" transform="translate(280.80,433.75) rotate(-90)" font-size="8.6">50</text>
<path d="M288.70,415.50 h-4" stroke="#2a2a2a" stroke-width="0.9"/>
<text class="tk" text-anchor="middle" transform="translate(280.80,415.50) rotate(-90)" font-size="8.6">100</text>
<path d="M288.70,397.25 h-4" stroke="#2a2a2a" stroke-width="0.9"/>
<text class="tk" text-anchor="middle" transform="translate(280.80,397.25) rotate(-90)" font-size="8.6">150</text>
<path d="M288.70,379.00 h-4" stroke="#2a2a2a" stroke-width="0.9"/>
<text class="tk" text-anchor="middle" transform="translate(280.80,379.00) rotate(-90)" font-size="8.6">200</text>
<path d="M288.70,360.75 h-4" stroke="#2a2a2a" stroke-width="0.9"/>
<text class="tk" text-anchor="middle" transform="translate(280.80,360.75) rotate(-90)" font-size="8.6">250</text>
<path d="M288.70,342.50 h-4" stroke="#2a2a2a" stroke-width="0.9"/>
<text class="tk" text-anchor="middle" transform="translate(280.80,342.50) rotate(-90)" font-size="8.6">300</text>
<path d="M288.70,324.25 h-4" stroke="#2a2a2a" stroke-width="0.9"/>
<text class="tk" text-anchor="middle" transform="translate(280.80,324.25) rotate(-90)" font-size="8.6">350</text>
<text font-size="8.9" fill="#222" stroke="#222" stroke-width="0.12" text-anchor="middle" transform="translate(264.90,393.00) rotate(-90)">Log<tspan font-size="5.8" dy="2">10</tspan><tspan dy="-2"> FDR</tspan></text>
<text x="380.75" y="482.3" font-size="9.1" fill="#222" stroke="#222" stroke-width="0.12">Log<tspan font-size="5.4" dy="2">2</tspan><tspan dy="-2"> FC</tspan></text>
<circle cx="379.2" cy="445.0" r="0.72" fill="#2c6a38"/>
<circle cx="385.9" cy="449.8" r="0.72" fill="#2c6a38"/>
<circle cx="391.4" cy="448.1" r="0.72" fill="#3a8246"/>
<circle cx="388.3" cy="451.0" r="0.72" fill="#2c6a38"/>
<circle cx="383.9" cy="440.7" r="0.72" fill="#33773f"/>
<circle cx="401.2" cy="419.8" r="0.72" fill="#285f33"/>
<circle cx="395.8" cy="440.6" r="0.72" fill="#33773f"/>
<circle cx="389.4" cy="452.5" r="0.72" fill="#3a8246"/>
<circle cx="387.4" cy="452.4" r="0.72" fill="#33773f"/>
<circle cx="386.5" cy="447.1" r="0.72" fill="#33773f"/>
<circle cx="388.9" cy="452.3" r="0.72" fill="#33773f"/>
<circle cx="381.9" cy="441.0" r="0.72" fill="#33773f"/>
<circle cx="383.6" cy="449.4" r="0.72" fill="#33773f"/>
<circle cx="363.7" cy="427.2" r="0.72" fill="#3a8246"/>
<circle cx="385.3" cy="446.5" r="0.72" fill="#2c6a38"/>
<circle cx="391.6" cy="450.4" r="0.72" fill="#3a8246"/>
<circle cx="375.4" cy="437.4" r="0.72" fill="#285f33"/>
<circle cx="388.5" cy="452.3" r="0.72" fill="#2c6a38"/>
<circle cx="387.9" cy="450.7" r="0.72" fill="#3a8246"/>
<circle cx="372.0" cy="424.1" r="0.72" fill="#2c6a38"/>
<circle cx="394.1" cy="447.3" r="0.72" fill="#285f33"/>
<circle cx="390.4" cy="450.5" r="0.72" fill="#33773f"/>
<circle cx="388.1" cy="452.5" r="0.72" fill="#2c6a38"/>
<circle cx="408.3" cy="415.5" r="0.72" fill="#285f33"/>
<circle cx="393.2" cy="450.2" r="0.72" fill="#2c6a38"/>
<circle cx="381.2" cy="447.7" r="0.72" fill="#3a8246"/>
<circle cx="393.0" cy="448.1" r="0.72" fill="#33773f"/>
<circle cx="395.7" cy="446.8" r="0.72" fill="#2c6a38"/>
<circle cx="388.7" cy="451.8" r="0.72" fill="#2c6a38"/>
<circle cx="393.2" cy="450.4" r="0.72" fill="#3a8246"/>
<circle cx="385.9" cy="445.1" r="0.72" fill="#2c6a38"/>
<circle cx="403.0" cy="433.2" r="0.72" fill="#2c6a38"/>
<circle cx="407.7" cy="438.7" r="0.72" fill="#33773f"/>
<circle cx="391.4" cy="450.6" r="0.72" fill="#3a8246"/>
<circle cx="368.1" cy="424.6" r="0.72" fill="#3a8246"/>
<circle cx="394.6" cy="441.7" r="0.72" fill="#2c6a38"/>
<circle cx="387.2" cy="451.4" r="0.72" fill="#2c6a38"/>
<circle cx="389.1" cy="452.6" r="0.72" fill="#3a8246"/>
<circle cx="377.0" cy="440.4" r="0.72" fill="#285f33"/>
<circle cx="381.9" cy="432.4" r="0.72" fill="#3a8246"/>
<circle cx="391.1" cy="450.2" r="0.72" fill="#3a8246"/>
<circle cx="384.4" cy="449.6" r="0.72" fill="#2c6a38"/>
<circle cx="376.0" cy="438.4" r="0.72" fill="#2c6a38"/>
<circle cx="397.5" cy="434.4" r="0.72" fill="#2c6a38"/>
<circle cx="387.4" cy="451.9" r="0.72" fill="#2c6a38"/>
<circle cx="405.4" cy="441.1" r="0.72" fill="#285f33"/>
<circle cx="383.3" cy="444.3" r="0.72" fill="#285f33"/>
<circle cx="389.1" cy="452.4" r="0.72" fill="#3a8246"/>
<circle cx="403.9" cy="398.0" r="0.72" fill="#2c6a38"/>
<circle cx="391.9" cy="449.5" r="0.72" fill="#3a8246"/>
<circle cx="419.5" cy="403.7" r="0.72" fill="#2c6a38"/>
<circle cx="392.4" cy="449.6" r="0.72" fill="#33773f"/>
<circle cx="389.0" cy="452.3" r="0.72" fill="#33773f"/>
<circle cx="387.9" cy="449.7" r="0.72" fill="#2c6a38"/>
<circle cx="392.7" cy="450.2" r="0.72" fill="#285f33"/>
<circle cx="394.6" cy="447.0" r="0.72" fill="#285f33"/>
<circle cx="366.8" cy="415.5" r="0.72" fill="#2c6a38"/>
<circle cx="385.0" cy="449.5" r="0.72" fill="#285f33"/>
<circle cx="388.4" cy="451.9" r="0.72" fill="#3a8246"/>
<circle cx="380.6" cy="442.2" r="0.72" fill="#285f33"/>
<circle cx="391.0" cy="451.2" r="0.72" fill="#33773f"/>
<circle cx="389.1" cy="452.4" r="0.72" fill="#3a8246"/>
<circle cx="413.2" cy="423.1" r="0.72" fill="#3a8246"/>
<circle cx="390.4" cy="452.4" r="0.72" fill="#285f33"/>
<circle cx="389.0" cy="452.0" r="0.72" fill="#2c6a38"/>
<circle cx="384.5" cy="442.4" r="0.72" fill="#33773f"/>
<circle cx="424.0" cy="417.5" r="0.72" fill="#2c6a38"/>
<circle cx="410.0" cy="425.7" r="0.72" fill="#285f33"/>
<circle cx="398.6" cy="442.5" r="0.72" fill="#33773f"/>
<circle cx="369.1" cy="388.2" r="0.72" fill="#285f33"/>
<circle cx="373.9" cy="416.3" r="0.72" fill="#2c6a38"/>
<circle cx="382.0" cy="432.9" r="0.72" fill="#33773f"/>
<circle cx="384.2" cy="445.4" r="0.72" fill="#285f33"/>
<circle cx="390.3" cy="452.4" r="0.72" fill="#33773f"/>
<circle cx="388.4" cy="451.6" r="0.72" fill="#3a8246"/>
<circle cx="374.9" cy="413.0" r="0.72" fill="#2c6a38"/>
<circle cx="398.7" cy="442.7" r="0.72" fill="#33773f"/>
<circle cx="372.6" cy="428.2" r="0.72" fill="#3a8246"/>
<circle cx="394.5" cy="446.6" r="0.72" fill="#33773f"/>
<circle cx="408.1" cy="431.7" r="0.72" fill="#2c6a38"/>
<circle cx="389.4" cy="452.6" r="0.72" fill="#285f33"/>
<circle cx="390.5" cy="452.0" r="0.72" fill="#285f33"/>
<circle cx="375.5" cy="442.2" r="0.72" fill="#33773f"/>
<circle cx="390.4" cy="451.4" r="0.72" fill="#285f33"/>
<circle cx="380.6" cy="447.0" r="0.72" fill="#3a8246"/>
<circle cx="342.4" cy="391.5" r="0.72" fill="#33773f"/>
<circle cx="409.2" cy="406.2" r="0.72" fill="#33773f"/>
<circle cx="399.3" cy="446.7" r="0.72" fill="#285f33"/>
<circle cx="391.2" cy="451.1" r="0.72" fill="#2c6a38"/>
<circle cx="387.0" cy="450.5" r="0.72" fill="#285f33"/>
<circle cx="390.5" cy="451.2" r="0.72" fill="#2c6a38"/>
<circle cx="412.6" cy="416.1" r="0.72" fill="#2c6a38"/>
<circle cx="389.5" cy="452.1" r="0.72" fill="#3a8246"/>
<circle cx="389.5" cy="452.5" r="0.72" fill="#2c6a38"/>
<circle cx="393.8" cy="447.7" r="0.72" fill="#33773f"/>
<circle cx="390.6" cy="451.0" r="0.72" fill="#33773f"/>
<circle cx="391.6" cy="448.8" r="0.72" fill="#285f33"/>
<circle cx="404.9" cy="441.6" r="0.72" fill="#3a8246"/>
<circle cx="391.2" cy="451.3" r="0.72" fill="#33773f"/>
<circle cx="400.3" cy="438.2" r="0.72" fill="#2c6a38"/>
<circle cx="389.6" cy="452.4" r="0.72" fill="#285f33"/>
<circle cx="386.8" cy="448.2" r="0.72" fill="#285f33"/>
<circle cx="400.7" cy="441.7" r="0.72" fill="#33773f"/>
<circle cx="407.5" cy="432.0" r="0.72" fill="#2c6a38"/>
<circle cx="393.8" cy="443.0" r="0.72" fill="#285f33"/>
<circle cx="389.7" cy="452.5" r="0.72" fill="#3a8246"/>
<circle cx="391.7" cy="452.3" r="0.72" fill="#33773f"/>
<circle cx="384.2" cy="446.3" r="0.72" fill="#2c6a38"/>
<circle cx="396.0" cy="449.0" r="0.72" fill="#285f33"/>
<circle cx="376.6" cy="442.9" r="0.72" fill="#2c6a38"/>
<circle cx="376.4" cy="425.9" r="0.72" fill="#33773f"/>
<circle cx="386.6" cy="450.8" r="0.72" fill="#33773f"/>
<circle cx="396.6" cy="433.1" r="0.72" fill="#285f33"/>
<circle cx="378.7" cy="443.6" r="0.72" fill="#33773f"/>
<circle cx="385.9" cy="448.3" r="0.72" fill="#3a8246"/>
<circle cx="386.8" cy="448.4" r="0.72" fill="#3a8246"/>
<circle cx="402.5" cy="442.8" r="0.72" fill="#285f33"/>
<circle cx="383.1" cy="448.8" r="0.72" fill="#2c6a38"/>
<circle cx="392.0" cy="449.1" r="0.72" fill="#3a8246"/>
<circle cx="374.7" cy="428.0" r="0.72" fill="#285f33"/>
<circle cx="398.8" cy="446.7" r="0.72" fill="#33773f"/>
<circle cx="388.4" cy="451.8" r="0.72" fill="#2c6a38"/>
<circle cx="386.0" cy="448.4" r="0.72" fill="#3a8246"/>
<circle cx="394.8" cy="445.7" r="0.72" fill="#3a8246"/>
<circle cx="388.2" cy="452.3" r="0.72" fill="#3a8246"/>
<circle cx="389.2" cy="452.5" r="0.72" fill="#2c6a38"/>
<circle cx="382.4" cy="444.5" r="0.72" fill="#285f33"/>
<circle cx="384.3" cy="445.4" r="0.72" fill="#2c6a38"/>
<circle cx="353.4" cy="416.3" r="0.72" fill="#3a8246"/>
<circle cx="376.6" cy="420.1" r="0.72" fill="#2c6a38"/>
<circle cx="406.2" cy="406.3" r="0.72" fill="#285f33"/>
<circle cx="380.9" cy="439.6" r="0.72" fill="#33773f"/>
<circle cx="389.6" cy="452.1" r="0.72" fill="#33773f"/>
<circle cx="411.4" cy="433.3" r="0.72" fill="#285f33"/>
<circle cx="382.3" cy="448.7" r="0.72" fill="#2c6a38"/>
<circle cx="377.5" cy="415.3" r="0.72" fill="#33773f"/>
<circle cx="394.7" cy="449.8" r="0.72" fill="#285f33"/>
<circle cx="387.0" cy="449.6" r="0.72" fill="#3a8246"/>
<circle cx="395.6" cy="444.4" r="0.72" fill="#33773f"/>
<circle cx="418.1" cy="423.9" r="0.72" fill="#33773f"/>
<circle cx="388.5" cy="451.7" r="0.72" fill="#285f33"/>
<circle cx="387.0" cy="451.2" r="0.72" fill="#285f33"/>
<circle cx="391.2" cy="451.8" r="0.72" fill="#3a8246"/>
<circle cx="397.8" cy="446.0" r="0.72" fill="#3a8246"/>
<circle cx="402.8" cy="438.5" r="0.72" fill="#33773f"/>
<circle cx="389.1" cy="452.3" r="0.72" fill="#2c6a38"/>
<circle cx="398.5" cy="439.1" r="0.72" fill="#2c6a38"/>
<circle cx="393.6" cy="449.3" r="0.72" fill="#2c6a38"/>
<circle cx="377.0" cy="441.6" r="0.72" fill="#3a8246"/>
<circle cx="392.8" cy="450.8" r="0.72" fill="#3a8246"/>
<circle cx="394.2" cy="448.4" r="0.72" fill="#2c6a38"/>
<circle cx="423.8" cy="410.6" r="0.72" fill="#285f33"/>
<circle cx="382.3" cy="442.9" r="0.72" fill="#3a8246"/>
<circle cx="374.3" cy="437.3" r="0.72" fill="#33773f"/>
<circle cx="391.2" cy="449.8" r="0.72" fill="#2c6a38"/>
<circle cx="387.4" cy="448.4" r="0.72" fill="#285f33"/>
<circle cx="392.8" cy="445.8" r="0.72" fill="#2c6a38"/>
<circle cx="390.7" cy="451.4" r="0.72" fill="#33773f"/>
<circle cx="392.9" cy="449.2" r="0.72" fill="#285f33"/>
<circle cx="384.6" cy="449.9" r="0.72" fill="#2c6a38"/>
<circle cx="384.5" cy="442.5" r="0.72" fill="#33773f"/>
<circle cx="355.5" cy="386.8" r="0.72" fill="#285f33"/>
<circle cx="385.9" cy="449.0" r="0.72" fill="#2c6a38"/>
<circle cx="376.5" cy="436.0" r="0.72" fill="#3a8246"/>
<circle cx="389.0" cy="452.3" r="0.72" fill="#285f33"/>
<circle cx="421.1" cy="411.8" r="0.72" fill="#285f33"/>
<circle cx="380.7" cy="447.9" r="0.72" fill="#285f33"/>
<circle cx="383.9" cy="439.4" r="0.72" fill="#2c6a38"/>
<circle cx="388.6" cy="451.0" r="0.72" fill="#285f33"/>
<circle cx="380.9" cy="442.6" r="0.72" fill="#285f33"/>
<circle cx="377.8" cy="434.9" r="0.72" fill="#2c6a38"/>
<circle cx="392.0" cy="451.1" r="0.72" fill="#2c6a38"/>
<circle cx="382.0" cy="434.8" r="0.72" fill="#2c6a38"/>
<circle cx="394.3" cy="444.6" r="0.72" fill="#2c6a38"/>
<circle cx="388.5" cy="451.6" r="0.72" fill="#2c6a38"/>
<circle cx="423.6" cy="403.4" r="0.72" fill="#2c6a38"/>
<circle cx="388.7" cy="452.4" r="0.72" fill="#3a8246"/>
<circle cx="383.7" cy="445.1" r="0.72" fill="#2c6a38"/>
<circle cx="361.6" cy="424.3" r="0.72" fill="#33773f"/>
<circle cx="387.4" cy="452.3" r="0.72" fill="#285f33"/>
<circle cx="385.6" cy="450.0" r="0.72" fill="#285f33"/>
<circle cx="396.9" cy="444.8" r="0.72" fill="#285f33"/>
<circle cx="387.3" cy="451.0" r="0.72" fill="#285f33"/>
<circle cx="382.7" cy="445.6" r="0.72" fill="#3a8246"/>
<circle cx="380.0" cy="446.0" r="0.72" fill="#2c6a38"/>
<circle cx="389.2" cy="452.5" r="0.72" fill="#2c6a38"/>
<circle cx="378.6" cy="429.6" r="0.72" fill="#2c6a38"/>
<circle cx="411.5" cy="420.0" r="0.72" fill="#2c6a38"/>
<circle cx="383.4" cy="449.1" r="0.72" fill="#2c6a38"/>
<circle cx="395.2" cy="446.6" r="0.72" fill="#285f33"/>
<circle cx="406.3" cy="426.7" r="0.72" fill="#285f33"/>
<circle cx="374.0" cy="415.2" r="0.72" fill="#3a8246"/>
<circle cx="365.3" cy="400.5" r="0.72" fill="#3a8246"/>
<circle cx="379.2" cy="437.1" r="0.72" fill="#33773f"/>
<circle cx="396.6" cy="438.9" r="0.72" fill="#33773f"/>
<circle cx="373.6" cy="430.4" r="0.72" fill="#3a8246"/>
<circle cx="390.2" cy="451.9" r="0.72" fill="#33773f"/>
<circle cx="389.1" cy="452.5" r="0.72" fill="#2c6a38"/>
<circle cx="383.7" cy="438.6" r="0.72" fill="#2c6a38"/>
<circle cx="395.8" cy="449.2" r="0.72" fill="#2c6a38"/>
<circle cx="397.8" cy="446.3" r="0.72" fill="#3a8246"/>
<circle cx="387.4" cy="450.7" r="0.72" fill="#3a8246"/>
<circle cx="395.8" cy="442.3" r="0.72" fill="#3a8246"/>
<circle cx="377.4" cy="434.8" r="0.72" fill="#285f33"/>
<circle cx="397.2" cy="435.7" r="0.72" fill="#33773f"/>
<circle cx="383.0" cy="446.6" r="0.72" fill="#33773f"/>
<circle cx="398.9" cy="447.1" r="0.72" fill="#2c6a38"/>
<circle cx="384.0" cy="447.3" r="0.72" fill="#2c6a38"/>
<circle cx="410.0" cy="420.9" r="0.72" fill="#33773f"/>
<circle cx="391.0" cy="451.5" r="0.72" fill="#33773f"/>
<circle cx="395.3" cy="440.6" r="0.72" fill="#3a8246"/>
<circle cx="399.8" cy="437.2" r="0.72" fill="#3a8246"/>
<circle cx="384.3" cy="446.6" r="0.72" fill="#285f33"/>
<circle cx="376.3" cy="443.9" r="0.72" fill="#33773f"/>
<circle cx="402.4" cy="444.3" r="0.72" fill="#285f33"/>
<circle cx="386.6" cy="450.4" r="0.72" fill="#2c6a38"/>
<circle cx="389.0" cy="452.5" r="0.72" fill="#3a8246"/>
<circle cx="386.3" cy="450.0" r="0.72" fill="#285f33"/>
<circle cx="410.8" cy="435.1" r="0.72" fill="#285f33"/>
<circle cx="393.7" cy="449.5" r="0.72" fill="#3a8246"/>
<circle cx="370.6" cy="413.7" r="0.72" fill="#3a8246"/>
<circle cx="378.4" cy="409.2" r="0.72" fill="#285f33"/>
<circle cx="389.6" cy="452.2" r="0.72" fill="#2c6a38"/>
<circle cx="387.3" cy="451.0" r="0.72" fill="#3a8246"/>
<circle cx="391.2" cy="452.3" r="0.72" fill="#3a8246"/>
<circle cx="400.9" cy="437.3" r="0.72" fill="#2c6a38"/>
<circle cx="407.5" cy="414.2" r="0.72" fill="#33773f"/>
<circle cx="395.3" cy="446.6" r="0.72" fill="#2c6a38"/>
<circle cx="400.7" cy="424.6" r="0.72" fill="#3a8246"/>
<circle cx="386.4" cy="447.2" r="0.72" fill="#33773f"/>
<circle cx="391.7" cy="450.1" r="0.72" fill="#2c6a38"/>
<circle cx="408.0" cy="436.1" r="0.72" fill="#285f33"/>
<circle cx="373.1" cy="441.5" r="0.72" fill="#2c6a38"/>
<circle cx="381.4" cy="437.2" r="0.72" fill="#285f33"/>
<circle cx="385.5" cy="446.3" r="0.72" fill="#2c6a38"/>
<circle cx="387.0" cy="449.5" r="0.72" fill="#285f33"/>
<circle cx="382.5" cy="442.9" r="0.72" fill="#2c6a38"/>
<circle cx="405.3" cy="437.5" r="0.72" fill="#2c6a38"/>
<circle cx="384.6" cy="445.1" r="0.72" fill="#285f33"/>
<circle cx="404.5" cy="442.2" r="0.72" fill="#2c6a38"/>
<circle cx="392.1" cy="449.0" r="0.72" fill="#2c6a38"/>
<circle cx="401.9" cy="431.2" r="0.72" fill="#2c6a38"/>
<circle cx="389.8" cy="452.4" r="0.72" fill="#3a8246"/>
<circle cx="398.3" cy="447.2" r="0.72" fill="#2c6a38"/>
<circle cx="393.5" cy="442.5" r="0.72" fill="#3a8246"/>
<circle cx="382.2" cy="434.3" r="0.72" fill="#3a8246"/>
<circle cx="386.8" cy="447.0" r="0.72" fill="#33773f"/>
<circle cx="376.1" cy="441.5" r="0.72" fill="#285f33"/>
<circle cx="395.6" cy="444.7" r="0.72" fill="#2c6a38"/>
<circle cx="385.6" cy="448.9" r="0.72" fill="#3a8246"/>
<circle cx="393.7" cy="443.5" r="0.72" fill="#2c6a38"/>
<circle cx="401.2" cy="440.2" r="0.72" fill="#285f33"/>
<circle cx="372.6" cy="417.8" r="0.72" fill="#3a8246"/>
<circle cx="404.3" cy="424.3" r="0.72" fill="#2c6a38"/>
<circle cx="364.7" cy="427.6" r="0.72" fill="#285f33"/>
<circle cx="392.4" cy="450.9" r="0.72" fill="#33773f"/>
<circle cx="387.4" cy="450.6" r="0.72" fill="#2c6a38"/>
<circle cx="393.6" cy="446.6" r="0.72" fill="#2c6a38"/>
<circle cx="391.5" cy="448.5" r="0.72" fill="#33773f"/>
<circle cx="391.3" cy="451.8" r="0.72" fill="#285f33"/>
<circle cx="401.7" cy="433.2" r="0.72" fill="#2c6a38"/>
<circle cx="396.8" cy="443.5" r="0.72" fill="#33773f"/>
<circle cx="392.2" cy="447.4" r="0.72" fill="#2c6a38"/>
<circle cx="402.7" cy="426.6" r="0.72" fill="#33773f"/>
<circle cx="403.3" cy="419.7" r="0.72" fill="#2c6a38"/>
<circle cx="387.2" cy="452.2" r="0.72" fill="#285f33"/>
<circle cx="388.0" cy="449.7" r="0.72" fill="#285f33"/>
<circle cx="396.4" cy="442.7" r="0.72" fill="#2c6a38"/>
<circle cx="400.5" cy="425.1" r="0.72" fill="#285f33"/>
<circle cx="410.5" cy="434.2" r="0.72" fill="#285f33"/>
<circle cx="390.0" cy="452.1" r="0.72" fill="#33773f"/>
<circle cx="395.7" cy="442.1" r="0.72" fill="#3a8246"/>
<circle cx="394.9" cy="449.3" r="0.72" fill="#285f33"/>
<circle cx="392.4" cy="449.0" r="0.72" fill="#285f33"/>
<circle cx="398.0" cy="447.3" r="0.72" fill="#3a8246"/>
<circle cx="370.1" cy="396.9" r="0.72" fill="#3a8246"/>
<circle cx="373.3" cy="429.2" r="0.72" fill="#33773f"/>
<circle cx="387.7" cy="451.4" r="0.72" fill="#2c6a38"/>
<circle cx="393.1" cy="446.3" r="0.72" fill="#285f33"/>
<circle cx="385.3" cy="448.7" r="0.72" fill="#33773f"/>
<circle cx="354.6" cy="388.5" r="0.72" fill="#33773f"/>
<circle cx="388.5" cy="452.4" r="0.72" fill="#3a8246"/>
<circle cx="382.6" cy="442.6" r="0.72" fill="#285f33"/>
<circle cx="388.8" cy="452.1" r="0.72" fill="#285f33"/>
<circle cx="372.6" cy="421.9" r="0.72" fill="#285f33"/>
<circle cx="367.7" cy="405.7" r="0.72" fill="#3a8246"/>
<circle cx="401.9" cy="407.4" r="0.72" fill="#285f33"/>
<circle cx="412.4" cy="433.8" r="0.72" fill="#3a8246"/>
<circle cx="395.7" cy="447.9" r="0.72" fill="#3a8246"/>
<circle cx="384.6" cy="449.3" r="0.72" fill="#3a8246"/>
<circle cx="367.0" cy="396.7" r="0.72" fill="#3a8246"/>
<circle cx="387.9" cy="450.5" r="0.72" fill="#2c6a38"/>
<circle cx="384.2" cy="448.1" r="0.72" fill="#2c6a38"/>
<circle cx="395.8" cy="445.4" r="0.72" fill="#2c6a38"/>
<circle cx="390.2" cy="451.3" r="0.72" fill="#3a8246"/>
<circle cx="398.9" cy="429.5" r="0.72" fill="#3a8246"/>
<circle cx="403.6" cy="438.2" r="0.72" fill="#2c6a38"/>
<circle cx="376.7" cy="406.8" r="0.72" fill="#3a8246"/>
<circle cx="380.8" cy="437.1" r="0.72" fill="#2c6a38"/>
<circle cx="390.5" cy="451.3" r="0.72" fill="#33773f"/>
<circle cx="398.8" cy="441.8" r="0.72" fill="#33773f"/>
<circle cx="384.7" cy="449.4" r="0.72" fill="#2c6a38"/>
<circle cx="400.9" cy="435.8" r="0.72" fill="#3a8246"/>
<circle cx="392.6" cy="449.0" r="0.72" fill="#3a8246"/>
<circle cx="389.9" cy="451.6" r="0.72" fill="#285f33"/>
<circle cx="389.6" cy="452.1" r="0.72" fill="#285f33"/>
<circle cx="387.3" cy="451.1" r="0.72" fill="#2c6a38"/>
<circle cx="381.1" cy="442.1" r="0.72" fill="#33773f"/>
<circle cx="397.9" cy="439.6" r="0.72" fill="#285f33"/>
<circle cx="389.9" cy="452.3" r="0.72" fill="#285f33"/>
<circle cx="381.7" cy="437.6" r="0.72" fill="#285f33"/>
<circle cx="383.6" cy="444.0" r="0.72" fill="#3a8246"/>
<circle cx="394.1" cy="448.4" r="0.72" fill="#3a8246"/>
<circle cx="383.9" cy="442.6" r="0.72" fill="#285f33"/>
<circle cx="387.4" cy="450.0" r="0.72" fill="#3a8246"/>
<circle cx="378.3" cy="440.6" r="0.72" fill="#285f33"/>
<circle cx="362.7" cy="428.8" r="0.72" fill="#2c6a38"/>
<circle cx="373.0" cy="432.2" r="0.72" fill="#2c6a38"/>
<circle cx="375.6" cy="417.5" r="0.72" fill="#33773f"/>
<circle cx="391.5" cy="449.7" r="0.72" fill="#3a8246"/>
<circle cx="393.6" cy="447.3" r="0.72" fill="#3a8246"/>
<circle cx="372.5" cy="438.2" r="0.72" fill="#2c6a38"/>
<circle cx="386.9" cy="451.0" r="0.72" fill="#285f33"/>
<circle cx="385.2" cy="448.2" r="0.72" fill="#285f33"/>
<circle cx="411.2" cy="429.6" r="0.72" fill="#33773f"/>
<circle cx="392.3" cy="450.3" r="0.72" fill="#33773f"/>
<circle cx="397.1" cy="439.4" r="0.72" fill="#3a8246"/>
<circle cx="388.4" cy="452.2" r="0.72" fill="#285f33"/>
<circle cx="434.0" cy="405.2" r="0.72" fill="#33773f"/>
<circle cx="398.4" cy="444.6" r="0.72" fill="#3a8246"/>
<circle cx="411.5" cy="427.7" r="0.72" fill="#285f33"/>
<circle cx="379.7" cy="437.7" r="0.72" fill="#3a8246"/>
<circle cx="388.8" cy="451.7" r="0.72" fill="#33773f"/>
<circle cx="391.1" cy="451.6" r="0.72" fill="#285f33"/>
<circle cx="411.8" cy="420.9" r="0.72" fill="#3a8246"/>
<circle cx="386.3" cy="451.0" r="0.72" fill="#285f33"/>
<circle cx="385.9" cy="446.9" r="0.72" fill="#285f33"/>
<circle cx="392.9" cy="450.5" r="0.72" fill="#33773f"/>
<circle cx="386.9" cy="452.2" r="0.72" fill="#2c6a38"/>
<circle cx="393.6" cy="446.3" r="0.72" fill="#2c6a38"/>
<circle cx="391.3" cy="449.7" r="0.72" fill="#33773f"/>
<circle cx="382.4" cy="442.4" r="0.72" fill="#33773f"/>
<circle cx="392.9" cy="447.5" r="0.72" fill="#2c6a38"/>
<circle cx="394.4" cy="449.6" r="0.72" fill="#2c6a38"/>
<circle cx="401.9" cy="439.2" r="0.72" fill="#2c6a38"/>
<circle cx="395.7" cy="445.5" r="0.72" fill="#285f33"/>
<circle cx="399.0" cy="427.2" r="0.72" fill="#3a8246"/>
<circle cx="389.2" cy="452.4" r="0.72" fill="#2c6a38"/>
<circle cx="387.3" cy="448.4" r="0.72" fill="#285f33"/>
<circle cx="381.9" cy="448.3" r="0.72" fill="#2c6a38"/>
<circle cx="387.3" cy="447.9" r="0.72" fill="#33773f"/>
<circle cx="407.4" cy="433.2" r="0.72" fill="#33773f"/>
<circle cx="370.2" cy="395.9" r="0.72" fill="#2c6a38"/>
<circle cx="396.9" cy="436.1" r="0.72" fill="#3a8246"/>
<circle cx="405.6" cy="426.5" r="0.72" fill="#2c6a38"/>
<circle cx="383.9" cy="445.1" r="0.72" fill="#2c6a38"/>
<circle cx="393.9" cy="447.5" r="0.72" fill="#3a8246"/>
<circle cx="392.9" cy="444.3" r="0.72" fill="#2c6a38"/>
<circle cx="398.8" cy="431.2" r="0.72" fill="#3a8246"/>
<circle cx="390.9" cy="449.5" r="0.72" fill="#2c6a38"/>
<circle cx="372.2" cy="426.4" r="0.72" fill="#3a8246"/>
<circle cx="382.8" cy="438.9" r="0.72" fill="#285f33"/>
<circle cx="378.3" cy="440.1" r="0.72" fill="#33773f"/>
<circle cx="391.5" cy="451.0" r="0.72" fill="#2c6a38"/>
<circle cx="399.2" cy="445.3" r="0.72" fill="#2c6a38"/>
<circle cx="390.5" cy="452.3" r="0.72" fill="#285f33"/>
<circle cx="379.1" cy="444.9" r="0.72" fill="#3a8246"/>
<circle cx="390.3" cy="451.8" r="0.72" fill="#3a8246"/>
<circle cx="394.2" cy="440.0" r="0.72" fill="#2c6a38"/>
<circle cx="386.3" cy="450.0" r="0.72" fill="#33773f"/>
<circle cx="408.1" cy="429.5" r="0.72" fill="#2c6a38"/>
<circle cx="388.9" cy="451.9" r="0.72" fill="#33773f"/>
<circle cx="388.0" cy="450.3" r="0.72" fill="#3a8246"/>
<circle cx="395.4" cy="449.1" r="0.72" fill="#285f33"/>
<circle cx="388.8" cy="451.7" r="0.72" fill="#33773f"/>
<circle cx="388.0" cy="450.5" r="0.72" fill="#3a8246"/>
<circle cx="393.9" cy="442.0" r="0.72" fill="#33773f"/>
<circle cx="377.0" cy="427.5" r="0.72" fill="#33773f"/>
<circle cx="426.8" cy="407.7" r="0.72" fill="#33773f"/>
<circle cx="380.3" cy="444.9" r="0.72" fill="#3a8246"/>
<circle cx="384.9" cy="450.0" r="0.72" fill="#2c6a38"/>
<circle cx="388.1" cy="450.5" r="0.72" fill="#3a8246"/>
<circle cx="389.2" cy="452.5" r="0.72" fill="#285f33"/>
<circle cx="386.6" cy="449.9" r="0.72" fill="#3a8246"/>
<circle cx="401.3" cy="444.8" r="0.72" fill="#3a8246"/>
<circle cx="391.6" cy="451.4" r="0.72" fill="#285f33"/>
<circle cx="380.8" cy="430.2" r="0.72" fill="#33773f"/>
<circle cx="388.2" cy="450.2" r="0.72" fill="#33773f"/>
<circle cx="373.7" cy="440.5" r="0.72" fill="#2c6a38"/>
<circle cx="375.8" cy="439.9" r="0.72" fill="#285f33"/>
<circle cx="377.4" cy="439.9" r="0.72" fill="#3a8246"/>
<circle cx="386.3" cy="449.4" r="0.72" fill="#285f33"/>
<circle cx="413.7" cy="424.6" r="0.72" fill="#285f33"/>
<circle cx="392.6" cy="448.7" r="0.72" fill="#33773f"/>
<circle cx="379.2" cy="441.7" r="0.72" fill="#3a8246"/>
<circle cx="398.0" cy="440.7" r="0.72" fill="#2c6a38"/>
<circle cx="390.3" cy="450.9" r="0.72" fill="#2c6a38"/>
<circle cx="377.9" cy="439.9" r="0.72" fill="#3a8246"/>
<circle cx="376.4" cy="437.7" r="0.72" fill="#285f33"/>
<circle cx="387.8" cy="449.5" r="0.72" fill="#33773f"/>
<circle cx="375.5" cy="436.1" r="0.72" fill="#33773f"/>
<circle cx="381.8" cy="438.7" r="0.72" fill="#2c6a38"/>
<circle cx="421.0" cy="385.7" r="0.72" fill="#3a8246"/>
<circle cx="382.5" cy="441.1" r="0.72" fill="#2c6a38"/>
<circle cx="406.6" cy="437.2" r="0.72" fill="#3a8246"/>
<circle cx="381.5" cy="435.4" r="0.72" fill="#2c6a38"/>
<circle cx="376.7" cy="440.3" r="0.72" fill="#285f33"/>
<circle cx="390.0" cy="451.4" r="0.72" fill="#285f33"/>
<circle cx="386.4" cy="450.4" r="0.72" fill="#285f33"/>
<circle cx="411.0" cy="394.4" r="0.72" fill="#3a8246"/>
<circle cx="387.5" cy="448.7" r="0.72" fill="#33773f"/>
<circle cx="394.5" cy="448.7" r="0.72" fill="#3a8246"/>
<circle cx="383.3" cy="446.1" r="0.72" fill="#2c6a38"/>
<circle cx="379.6" cy="443.3" r="0.72" fill="#3a8246"/>
<circle cx="385.2" cy="445.2" r="0.72" fill="#285f33"/>
<circle cx="379.4" cy="427.7" r="0.72" fill="#285f33"/>
<circle cx="403.9" cy="435.3" r="0.72" fill="#3a8246"/>
<circle cx="425.8" cy="409.9" r="0.72" fill="#2c6a38"/>
<circle cx="393.8" cy="449.3" r="0.72" fill="#33773f"/>
<circle cx="387.9" cy="450.8" r="0.72" fill="#3a8246"/>
<circle cx="379.9" cy="447.0" r="0.72" fill="#33773f"/>
<circle cx="388.7" cy="451.4" r="0.72" fill="#33773f"/>
<circle cx="388.3" cy="450.4" r="0.72" fill="#2c6a38"/>
<circle cx="364.2" cy="384.9" r="0.72" fill="#33773f"/>
<circle cx="399.5" cy="439.5" r="0.72" fill="#33773f"/>
<circle cx="386.2" cy="445.5" r="0.72" fill="#2c6a38"/>
<circle cx="385.0" cy="444.2" r="0.72" fill="#285f33"/>
<circle cx="397.4" cy="436.4" r="0.72" fill="#33773f"/>
<circle cx="389.8" cy="452.2" r="0.72" fill="#33773f"/>
<circle cx="389.0" cy="452.3" r="0.72" fill="#285f33"/>
<circle cx="399.7" cy="432.1" r="0.72" fill="#285f33"/>
<circle cx="394.2" cy="450.1" r="0.72" fill="#33773f"/>
<circle cx="391.0" cy="451.9" r="0.72" fill="#285f33"/>
<circle cx="401.1" cy="428.1" r="0.72" fill="#33773f"/>
<circle cx="391.3" cy="452.4" r="0.72" fill="#2c6a38"/>
<circle cx="383.8" cy="449.1" r="0.72" fill="#3a8246"/>
<circle cx="391.5" cy="451.7" r="0.72" fill="#3a8246"/>
<circle cx="384.9" cy="443.2" r="0.72" fill="#2c6a38"/>
<circle cx="389.6" cy="452.4" r="0.72" fill="#2c6a38"/>
<circle cx="400.1" cy="442.5" r="0.72" fill="#33773f"/>
<circle cx="348.0" cy="336.8" r="0.65" fill="#2f4f40"/>
<circle cx="347.5" cy="344.5" r="0.65" fill="#2f4f40"/>
<circle cx="355.8" cy="349.5" r="0.65" fill="#2f4f40"/>
<circle cx="365.8" cy="347.0" r="0.65" fill="#2f4f40"/>
<circle cx="350.8" cy="360.8" r="0.65" fill="#2f4f40"/>
<circle cx="355.8" cy="360.8" r="0.65" fill="#2f4f40"/>
<circle cx="357.0" cy="363.0" r="0.65" fill="#2f4f40"/>
<circle cx="374.5" cy="361.2" r="0.65" fill="#2f4f40"/>
<circle cx="361.2" cy="372.5" r="0.65" fill="#2f4f40"/>
<circle cx="367.5" cy="370.8" r="0.65" fill="#2f4f40"/>
<circle cx="370.0" cy="372.5" r="0.65" fill="#2f4f40"/>
<circle cx="352.0" cy="377.5" r="0.65" fill="#2f4f40"/>
<circle cx="368.8" cy="378.0" r="0.65" fill="#2f4f40"/>
<circle cx="354.5" cy="380.0" r="0.65" fill="#2f4f40"/>
<circle cx="349.5" cy="382.5" r="0.65" fill="#2f4f40"/>
<circle cx="372.5" cy="386.2" r="0.65" fill="#2f4f40"/>
<circle cx="375.8" cy="387.5" r="0.65" fill="#2f4f40"/>
<circle cx="350.0" cy="424.2" r="0.65" fill="#2f4f40"/>
<circle cx="354.5" cy="396.2" r="0.65" fill="#2f4f40"/>
<circle cx="439.0" cy="335.0" r="0.65" fill="#2f4f40"/>
<circle cx="440.3" cy="344.0" r="0.65" fill="#2f4f40"/>
<circle cx="432.0" cy="348.6" r="0.65" fill="#2f4f40"/>
<circle cx="415.4" cy="360.0" r="0.65" fill="#2f4f40"/>
<circle cx="411.8" cy="371.4" r="0.65" fill="#2f4f40"/>
<circle cx="410.8" cy="374.0" r="0.65" fill="#2f4f40"/>
<circle cx="413.9" cy="385.0" r="0.65" fill="#2f4f40"/>
<circle cx="409.3" cy="389.7" r="0.65" fill="#2f4f40"/>
<circle cx="407.8" cy="392.0" r="0.65" fill="#2f4f40"/>
<circle cx="429.7" cy="408.8" r="0.65" fill="#2f4f40"/>
<path d="M353.0,333.8 L365.5,330.0" stroke="#cc4030" stroke-width="0.35"/>
<path d="M353.2,335.5 L356.5,340.5" stroke="#cc4030" stroke-width="0.35"/>
<path d="M432.5,335.0 L437.8,331.5" stroke="#cc4030" stroke-width="0.35"/>
<circle cx="307.50" cy="335.00" r="1.3" fill="#bb2e28"/>
<text x="305.75" y="336.90" class="g" text-anchor="end">GZMK</text>
<circle cx="330.00" cy="335.00" r="1.3" fill="#bb2e28"/>
<text x="327.50" y="336.90" class="g" text-anchor="end">CCL3</text>
<circle cx="332.00" cy="335.00" r="1.3" fill="#bb2e28"/>
<text x="0.00" y="1.90" class="g" text-anchor="end"></text>
<text x="327.00" y="327.15" class="g" text-anchor="middle">CEBPD</text>
<circle cx="340.00" cy="335.00" r="1.3" fill="#bb2e28"/>
<text x="350.30" y="327.15" class="g" text-anchor="middle">WNT11</text>
<circle cx="352.50" cy="334.25" r="1.3" fill="#bb2e28"/>
<text x="366.30" y="331.90" class="g" text-anchor="start">EOMES</text>
<text x="355.00" y="344.40" class="g" text-anchor="start">LYST</text>
<circle cx="338.75" cy="343.75" r="1.3" fill="#bb2e28"/>
<text x="337.00" y="345.65" class="g" text-anchor="end">LAIR2</text>
<circle cx="346.25" cy="349.25" r="1.3" fill="#bb2e28"/>
<text x="344.50" y="350.90" class="g" text-anchor="end">CPA5</text>
<circle cx="346.25" cy="350.75" r="1.3" fill="#bb2e28"/>
<text x="344.50" y="356.15" class="g" text-anchor="end">SKAP2</text>
<circle cx="349.50" cy="409.50" r="1.3" fill="#bb2e28"/>
<text x="347.50" y="411.40" class="g" text-anchor="end">SOX4</text>
<circle cx="430.80" cy="336.20" r="1.3" fill="#bb2e28"/>
<text x="422.40" y="333.90" class="g" text-anchor="end">ITGB1</text>
<circle cx="431.80" cy="335.60" r="1.3" fill="#bb2e28"/>
<text x="438.20" y="332.30" class="g" text-anchor="start">UBXN11</text>
<circle cx="430.60" cy="337.60" r="1.3" fill="#bb2e28"/>
<text x="429.00" y="340.50" class="g" text-anchor="end">LIME1</text>
<circle cx="431.50" cy="345.00" r="1.3" fill="#bb2e28"/>
<text x="428.80" y="346.90" class="g" text-anchor="end">ITM2C</text>
<circle cx="481.40" cy="334.40" r="1.3" fill="#bb2e28"/>
<text x="479.90" y="332.90" class="g" text-anchor="start">ZNF683</text>
<circle cx="428.20" cy="360.80" r="1.3" fill="#bb2e28"/>
<text x="430.60" y="362.70" class="g" text-anchor="start">KLF2</text>
<circle cx="426.00" cy="377.00" r="1.3" fill="#bb2e28"/>
<text x="428.50" y="377.30" class="g" text-anchor="start">S1PR1</text>
<circle cx="424.00" cy="380.60" r="1.3" fill="#bb2e28"/>
<text x="426.20" y="383.10" class="g" text-anchor="start">RASA3</text>
<circle cx="424.00" cy="396.40" r="1.3" fill="#bb2e28"/>
<text x="426.70" y="398.30" class="g" text-anchor="start">IL7R</text>
<circle cx="428.50" cy="424.00" r="1.3" fill="#bb2e28"/>
<text x="431.20" y="425.90" class="g" text-anchor="start">KLRB1</text>
<text x="26.30" y="503.00" font-size="10.9" fill="#1c1c1c">Upregulated genes</text>
<rect x="11.7" y="506.0" width="58.7" height="14.6" fill="#fff"/>
<text x="14.45" y="517.20" class="b" font-size="10.7" fill="#0c0c0c" textLength="35.98" lengthAdjust="spacingAndGlyphs" stroke="#0c0c0c" stroke-width="0.28">KLRB1</text>
<rect x="70.4" y="506.0" width="58.5" height="14.6" fill="#bdd7ee"/>
<text x="73.15" y="517.20" class="b" font-size="10.7" fill="#0c0c0c" textLength="30.00" lengthAdjust="spacingAndGlyphs" stroke="#0c0c0c" stroke-width="0.28">LIME1</text>
<rect x="11.7" y="520.6" width="58.7" height="14.6" fill="#bdd7ee"/>
<text x="14.45" y="531.80" class="b" font-size="10.7" fill="#0c0c0c" textLength="37.33" lengthAdjust="spacingAndGlyphs" stroke="#0c0c0c" stroke-width="0.28">ZNF683</text>
<rect x="70.4" y="520.6" width="58.5" height="14.6" fill="#bdd7ee"/>
<text x="73.15" y="531.80" class="b" font-size="10.7" fill="#0c0c0c" textLength="32.89" lengthAdjust="spacingAndGlyphs" stroke="#0c0c0c" stroke-width="0.28">S1PR1</text>
<rect x="11.7" y="535.2" width="58.7" height="14.2" fill="#bdd7ee"/>
<text x="14.45" y="546.00" class="b" font-size="10.7" fill="#0c0c0c" textLength="29.50" lengthAdjust="spacingAndGlyphs" stroke="#0c0c0c" stroke-width="0.28">ITGB1</text>
<rect x="70.4" y="535.2" width="58.5" height="14.2" fill="#fff"/>
<text x="73.15" y="546.00" font-size="11.1" fill="#1a1a1a" textLength="29.30" lengthAdjust="spacingAndGlyphs" stroke="#1a1a1a" stroke-width="0.3">TIMP1</text>
<rect x="11.7" y="549.4" width="58.7" height="14.4" fill="#fdf1cd"/>
<text x="14.45" y="560.40" font-size="11.1" fill="#40340f" textLength="46.09" lengthAdjust="spacingAndGlyphs" stroke="#40340f" stroke-width="0.3">C1orf162</text>
<rect x="70.4" y="549.4" width="58.5" height="14.4" fill="#bdd7ee"/>
<text x="73.15" y="560.40" font-size="11.1" fill="#1b2f57" textLength="45.79" lengthAdjust="spacingAndGlyphs" stroke="#1b2f57" stroke-width="0.3">C10orf54</text>
<rect x="11.7" y="563.8" width="58.7" height="14.2" fill="#bdd7ee"/>
<text x="14.45" y="574.60" class="b" font-size="10.7" fill="#0c0c0c" textLength="22.12" lengthAdjust="spacingAndGlyphs" stroke="#0c0c0c" stroke-width="0.28">IL7R</text>
<rect x="70.4" y="563.8" width="58.5" height="14.2" fill="#fff"/>
<text x="73.15" y="574.60" font-size="11.1" fill="#1a1a1a" textLength="39.00" lengthAdjust="spacingAndGlyphs" stroke="#1a1a1a" stroke-width="0.3">TBXAS1</text>
<path d="M11.1,506.0 H129.5" stroke="#2e2e2e" stroke-width="1.1"/>
<path d="M11.1,520.6 H129.5" stroke="#2e2e2e" stroke-width="1.1"/>
<path d="M11.1,535.2 H129.5" stroke="#2e2e2e" stroke-width="1.1"/>
<path d="M11.1,549.4 H129.5" stroke="#2e2e2e" stroke-width="1.1"/>
<path d="M11.1,563.8 H129.5" stroke="#2e2e2e" stroke-width="1.1"/>
<path d="M11.1,578.0 H129.5" stroke="#2e2e2e" stroke-width="1.1"/>
<path d="M11.7,506.0 V578.0" stroke="#2e2e2e" stroke-width="1.1"/>
<path d="M70.4,506.0 V578.0" stroke="#2e2e2e" stroke-width="1.1"/>
<path d="M128.9,506.0 V578.0" stroke="#2e2e2e" stroke-width="1.1"/>
<text x="139.20" y="503.00" font-size="10.9" fill="#1c1c1c">Downregulated genes</text>
<rect x="134.0" y="506.0" width="58.7" height="14.6" fill="#bdd7ee"/>
<text x="136.75" y="517.20" class="b" font-size="10.7" fill="#0c0c0c" textLength="31.19" lengthAdjust="spacingAndGlyphs" stroke="#0c0c0c" stroke-width="0.28">GZMK</text>
<rect x="192.7" y="506.0" width="59.3" height="14.6" fill="#fff"/>
<text x="195.45" y="517.20" class="b" font-size="10.7" fill="#0c0c0c" textLength="38.41" lengthAdjust="spacingAndGlyphs" stroke="#0c0c0c" stroke-width="0.28">CEBPD</text>
<rect x="134.0" y="520.6" width="58.7" height="14.6" fill="#fff"/>
<text x="136.75" y="531.80" class="b" font-size="10.7" fill="#0c0c0c" textLength="29.89" lengthAdjust="spacingAndGlyphs" stroke="#0c0c0c" stroke-width="0.28">LAIR2</text>
<rect x="192.7" y="520.6" width="59.3" height="14.6" fill="#fff"/>
<text x="195.45" y="531.80" font-size="11.1" fill="#1a1a1a" textLength="34.39" lengthAdjust="spacingAndGlyphs" stroke="#1a1a1a" stroke-width="0.3">GCNT1</text>
<rect x="134.0" y="535.2" width="58.7" height="14.2" fill="#fff"/>
<text x="136.75" y="546.00" class="b" font-size="10.7" fill="#0c0c0c" textLength="35.60" lengthAdjust="spacingAndGlyphs" stroke="#0c0c0c" stroke-width="0.28">SKAP2</text>
<rect x="192.7" y="535.2" width="59.3" height="14.2" fill="#bdd7ee"/>
<text x="195.45" y="546.00" font-size="11.1" fill="#1b2f57" textLength="22.21" lengthAdjust="spacingAndGlyphs" stroke="#1b2f57" stroke-width="0.3">CD6</text>
<rect x="134.0" y="549.4" width="58.7" height="14.4" fill="#fff"/>
<text x="136.75" y="560.40" font-size="11.1" fill="#1a1a1a" textLength="42.71" lengthAdjust="spacingAndGlyphs" stroke="#1a1a1a" stroke-width="0.3">CCDC50</text>
<rect x="192.7" y="549.4" width="59.3" height="14.4" fill="#bdd7ee"/>
<text x="195.45" y="560.40" font-size="11.1" fill="#1b2f57" textLength="22.21" lengthAdjust="spacingAndGlyphs" stroke="#1b2f57" stroke-width="0.3">CD5</text>
<rect x="134.0" y="563.8" width="58.7" height="14.2" fill="#fff"/>
<text x="136.75" y="574.60" class="b" font-size="10.7" fill="#0c0c0c" textLength="28.78" lengthAdjust="spacingAndGlyphs" stroke="#0c0c0c" stroke-width="0.28">SOX4</text>
<rect x="192.7" y="563.8" width="59.3" height="14.2" fill="#fdf1cd"/>
<text x="195.45" y="574.60" font-size="11.1" fill="#40340f" textLength="33.69" lengthAdjust="spacingAndGlyphs" stroke="#40340f" stroke-width="0.3">TPRG1</text>
<path d="M133.4,506.0 H252.6" stroke="#2e2e2e" stroke-width="1.1"/>
<path d="M133.4,520.6 H252.6" stroke="#2e2e2e" stroke-width="1.1"/>
<path d="M133.4,535.2 H252.6" stroke="#2e2e2e" stroke-width="1.1"/>
<path d="M133.4,549.4 H252.6" stroke="#2e2e2e" stroke-width="1.1"/>
<path d="M133.4,563.8 H252.6" stroke="#2e2e2e" stroke-width="1.1"/>
<path d="M133.4,578.0 H252.6" stroke="#2e2e2e" stroke-width="1.1"/>
<path d="M134.0,506.0 V578.0" stroke="#2e2e2e" stroke-width="1.1"/>
<path d="M192.7,506.0 V578.0" stroke="#2e2e2e" stroke-width="1.1"/>
<path d="M252.0,506.0 V578.0" stroke="#2e2e2e" stroke-width="1.1"/>
<text x="285.60" y="503.00" font-size="10.9" fill="#1c1c1c">Upregulated genes</text>
<rect x="270.7" y="506.0" width="58.9" height="14.6" fill="#bdd7ee"/>
<text x="273.45" y="517.20" class="b" font-size="10.7" fill="#0c0c0c" textLength="37.33" lengthAdjust="spacingAndGlyphs" stroke="#0c0c0c" stroke-width="0.28">ZNF683</text>
<rect x="329.6" y="506.0" width="59.2" height="14.6" fill="#fff"/>
<text x="332.35" y="517.20" class="b" font-size="10.7" fill="#0c0c0c" textLength="35.88" lengthAdjust="spacingAndGlyphs" stroke="#0c0c0c" stroke-width="0.28">KLRB1</text>
<rect x="270.7" y="520.6" width="58.9" height="14.6" fill="#fff"/>
<text x="273.45" y="531.80" font-size="11.1" fill="#1a1a1a" textLength="42.82" lengthAdjust="spacingAndGlyphs" stroke="#1a1a1a" stroke-width="0.3">UBXN11</text>
<rect x="329.6" y="520.6" width="59.2" height="14.6" fill="#bdd7ee"/>
<text x="332.35" y="531.80" font-size="11.1" fill="#1b2f57" textLength="24.80" lengthAdjust="spacingAndGlyphs" stroke="#1b2f57" stroke-width="0.3">KLF2</text>
<rect x="270.7" y="535.2" width="58.9" height="14.2" fill="#bdd7ee"/>
<text x="273.45" y="546.00" class="b" font-size="10.7" fill="#0c0c0c" textLength="29.70" lengthAdjust="spacingAndGlyphs" stroke="#0c0c0c" stroke-width="0.28">ITGB1</text>
<rect x="329.6" y="535.2" width="59.2" height="14.2" fill="#bdd7ee"/>
<text x="332.35" y="546.00" class="b" font-size="10.7" fill="#0c0c0c" textLength="32.89" lengthAdjust="spacingAndGlyphs" stroke="#0c0c0c" stroke-width="0.28">S1PR1</text>
<rect x="270.7" y="549.4" width="58.9" height="14.4" fill="#fff"/>
<text x="273.45" y="560.40" font-size="11.1" fill="#1a1a1a" textLength="31.00" lengthAdjust="spacingAndGlyphs" stroke="#1a1a1a" stroke-width="0.3">ITM2C</text>
<rect x="329.6" y="549.4" width="59.2" height="14.4" fill="#fff"/>
<text x="332.35" y="560.40" font-size="11.1" fill="#1a1a1a" textLength="35.89" lengthAdjust="spacingAndGlyphs" stroke="#1a1a1a" stroke-width="0.3">RASA3</text>
<rect x="270.7" y="563.8" width="58.9" height="14.2" fill="#bdd7ee"/>
<text x="273.45" y="574.60" class="b" font-size="10.7" fill="#0c0c0c" textLength="29.70" lengthAdjust="spacingAndGlyphs" stroke="#0c0c0c" stroke-width="0.28">LIME1</text>
<rect x="329.6" y="563.8" width="59.2" height="14.2" fill="#bdd7ee"/>
<text x="332.35" y="574.60" class="b" font-size="10.7" fill="#0c0c0c" textLength="21.82" lengthAdjust="spacingAndGlyphs" stroke="#0c0c0c" stroke-width="0.28">IL7R</text>
<path d="M270.1,506.0 H389.4" stroke="#2e2e2e" stroke-width="1.1"/>
<path d="M270.1,520.6 H389.4" stroke="#2e2e2e" stroke-width="1.1"/>
<path d="M270.1,535.2 H389.4" stroke="#2e2e2e" stroke-width="1.1"/>
<path d="M270.1,549.4 H389.4" stroke="#2e2e2e" stroke-width="1.1"/>
<path d="M270.1,563.8 H389.4" stroke="#2e2e2e" stroke-width="1.1"/>
<path d="M270.1,578.0 H389.4" stroke="#2e2e2e" stroke-width="1.1"/>
<path d="M270.7,506.0 V578.0" stroke="#2e2e2e" stroke-width="1.1"/>
<path d="M329.6,506.0 V578.0" stroke="#2e2e2e" stroke-width="1.1"/>
<path d="M388.8,506.0 V578.0" stroke="#2e2e2e" stroke-width="1.1"/>
<text x="398.00" y="503.00" font-size="10.9" fill="#1c1c1c">Downregulated genes</text>
<rect x="394.1" y="506.0" width="58.5" height="14.6" fill="#bdd7ee"/>
<text x="396.85" y="517.20" class="b" font-size="10.7" fill="#0c0c0c" textLength="30.19" lengthAdjust="spacingAndGlyphs" stroke="#0c0c0c" stroke-width="0.28">GZMK</text>
<rect x="452.6" y="506.0" width="59.2" height="14.6" fill="#fff"/>
<text x="455.35" y="517.20" font-size="11.1" fill="#1a1a1a" textLength="28.58" lengthAdjust="spacingAndGlyphs" stroke="#1a1a1a" stroke-width="0.3">CPA5</text>
<rect x="394.1" y="520.6" width="58.5" height="14.6" fill="#bdd7ee"/>
<text x="396.85" y="531.80" font-size="11.1" fill="#1b2f57" textLength="27.22" lengthAdjust="spacingAndGlyphs" stroke="#1b2f57" stroke-width="0.3">CCL3</text>
<rect x="452.6" y="520.6" width="59.2" height="14.6" fill="#fff"/>
<text x="455.35" y="531.80" class="b" font-size="10.7" fill="#0c0c0c" textLength="35.60" lengthAdjust="spacingAndGlyphs" stroke="#0c0c0c" stroke-width="0.28">SKAP2</text>
<rect x="394.1" y="535.2" width="58.5" height="14.2" fill="#fff"/>
<text x="396.85" y="546.00" class="b" font-size="10.7" fill="#0c0c0c" textLength="37.71" lengthAdjust="spacingAndGlyphs" stroke="#0c0c0c" stroke-width="0.28">CEBPD</text>
<rect x="452.6" y="535.2" width="59.2" height="14.2" fill="#fff"/>
<text x="455.35" y="546.00" class="b" font-size="10.7" fill="#0c0c0c" textLength="28.78" lengthAdjust="spacingAndGlyphs" stroke="#0c0c0c" stroke-width="0.28">SOX4</text>
<rect x="394.1" y="549.4" width="58.5" height="14.4" fill="#fff"/>
<text x="396.85" y="560.40" class="b" font-size="10.7" fill="#0c0c0c" textLength="29.59" lengthAdjust="spacingAndGlyphs" stroke="#0c0c0c" stroke-width="0.28">LAIR2</text>
<rect x="452.6" y="549.4" width="59.2" height="14.4" fill="#fff"/>
<text x="455.35" y="560.40" font-size="11.1" fill="#1a1a1a" textLength="26.22" lengthAdjust="spacingAndGlyphs" stroke="#1a1a1a" stroke-width="0.3">LYST</text>
<rect x="394.1" y="563.8" width="58.5" height="14.2" fill="#fff"/>
<text x="396.85" y="574.60" font-size="11.1" fill="#1a1a1a" textLength="34.60" lengthAdjust="spacingAndGlyphs" stroke="#1a1a1a" stroke-width="0.3">WNT11</text>
<rect x="452.6" y="563.8" width="59.2" height="14.2" fill="#bdd7ee"/>
<text x="455.35" y="574.60" font-size="11.1" fill="#1b2f57" textLength="38.62" lengthAdjust="spacingAndGlyphs" stroke="#1b2f57" stroke-width="0.3">EOMES</text>
<path d="M393.6,506.0 H512.4" stroke="#2e2e2e" stroke-width="1.1"/>
<path d="M393.6,520.6 H512.4" stroke="#2e2e2e" stroke-width="1.1"/>
<path d="M393.6,535.2 H512.4" stroke="#2e2e2e" stroke-width="1.1"/>
<path d="M393.6,549.4 H512.4" stroke="#2e2e2e" stroke-width="1.1"/>
<path d="M393.6,563.8 H512.4" stroke="#2e2e2e" stroke-width="1.1"/>
<path d="M393.6,578.0 H512.4" stroke="#2e2e2e" stroke-width="1.1"/>
<path d="M394.1,506.0 V578.0" stroke="#2e2e2e" stroke-width="1.1"/>
<path d="M452.6,506.0 V578.0" stroke="#2e2e2e" stroke-width="1.1"/>
<path d="M511.8,506.0 V578.0" stroke="#2e2e2e" stroke-width="1.1"/>
<rect x="54.4" y="581" width="10.7" height="11" fill="#bdd7ee"/>
<text y="590.1" font-size="10.05" fill="#1c1c1c"><tspan x="66.6">Genes with</tspan><tspan x="123.2">known T-cell-related functions</tspan></text>
<rect x="270" y="581" width="10.2" height="11" fill="#fdf1cd"/>
<text x="286.90" y="590.10" font-size="10.2" fill="#1c1c1c">Genes with unknown function</text>
</svg></body></html>
